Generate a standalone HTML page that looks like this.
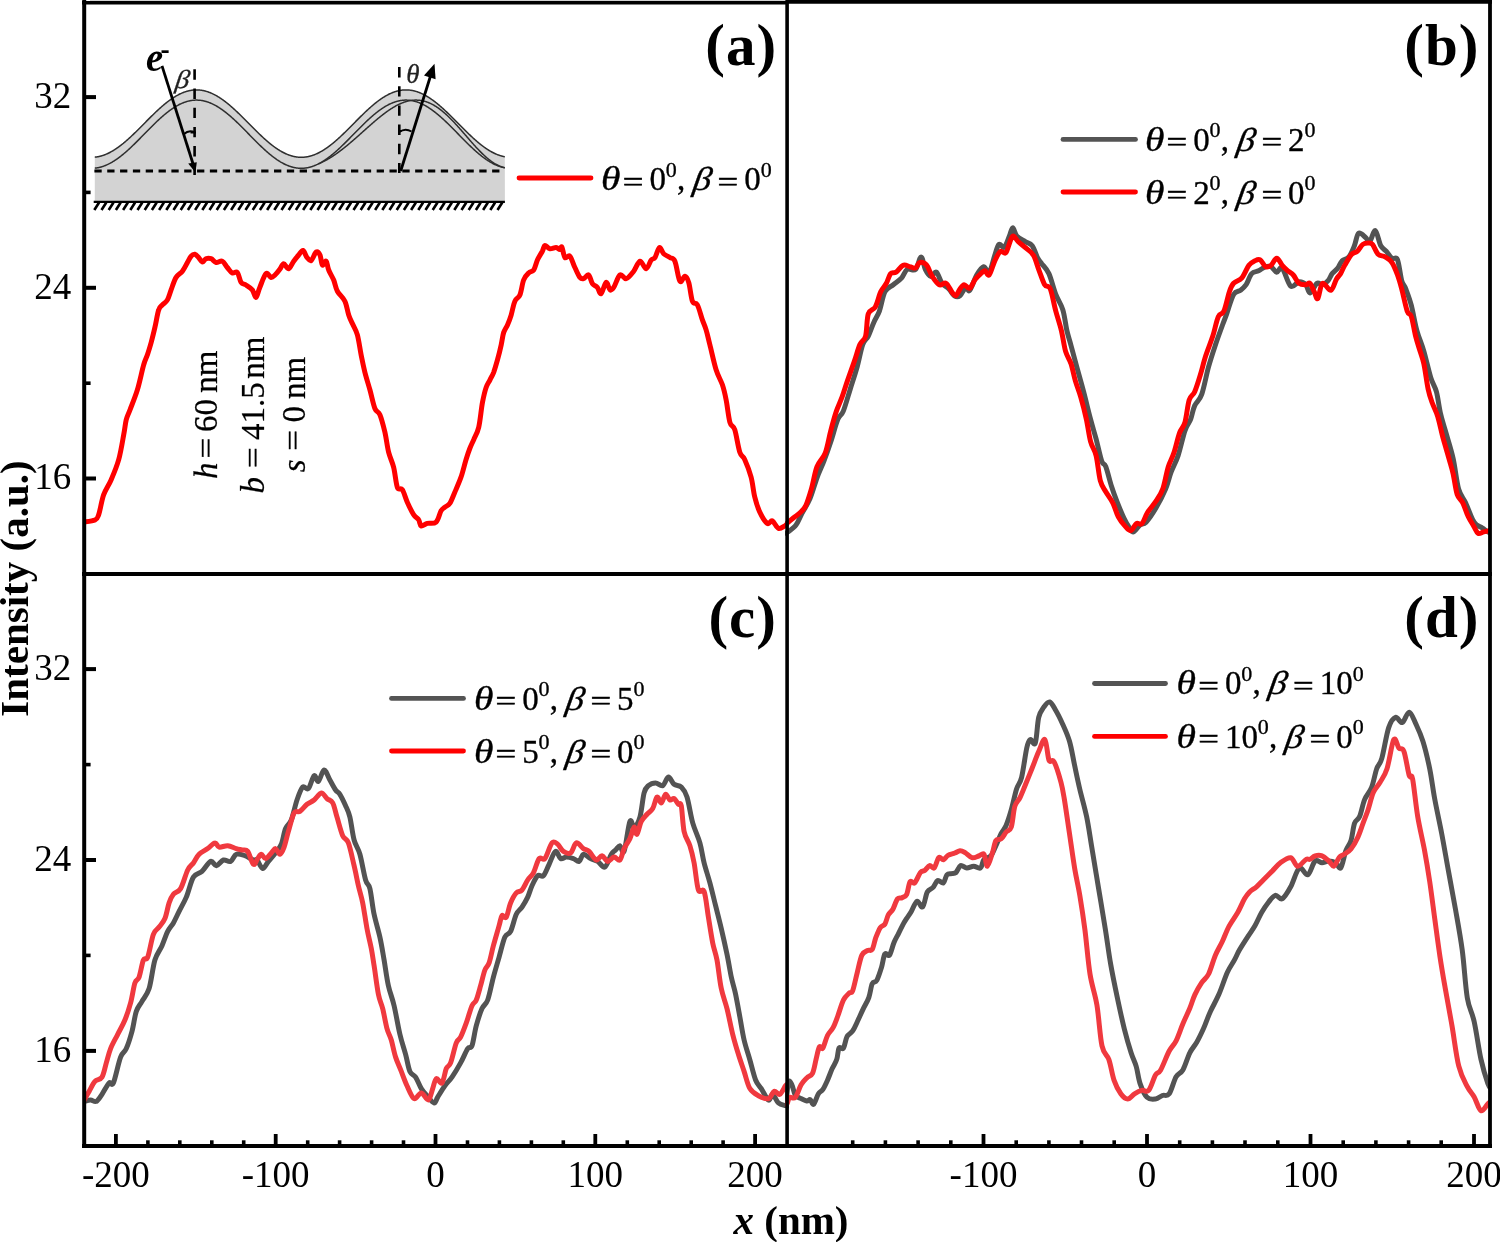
<!DOCTYPE html>
<html><head><meta charset="utf-8"><title>Intensity profiles</title>
<style>
html,body{margin:0;padding:0;background:#fff;}
body{width:1500px;height:1242px;overflow:hidden;}
svg{display:block;}
</style></head>
<body>
<svg width="1500" height="1242" viewBox="0 0 1500 1242">
<rect width="1500" height="1242" fill="#fff"/>
<g id="inset">
<path d="M94.8,201.5 L94.80,157.16 L95.30,157.11 L95.80,157.05 L96.30,156.99 L96.80,156.91 L97.30,156.83 L97.80,156.75 L98.30,156.65 L98.80,156.55 L99.30,156.44 L99.80,156.32 L100.30,156.20 L100.80,156.07 L101.30,155.93 L101.80,155.78 L102.30,155.63 L102.80,155.47 L103.30,155.30 L103.80,155.12 L104.30,154.94 L104.80,154.75 L105.30,154.56 L105.80,154.35 L106.30,154.14 L106.80,153.92 L107.30,153.70 L107.80,153.47 L108.30,153.23 L108.80,152.99 L109.30,152.74 L109.80,152.48 L110.30,152.22 L110.80,151.95 L111.30,151.67 L111.80,151.39 L112.30,151.10 L112.80,150.80 L113.30,150.50 L113.80,150.20 L114.30,149.88 L114.80,149.56 L115.30,149.24 L115.80,148.91 L116.30,148.57 L116.80,148.23 L117.30,147.88 L117.80,147.53 L118.30,147.17 L118.80,146.81 L119.30,146.44 L119.80,146.06 L120.30,145.68 L120.80,145.30 L121.30,144.91 L121.80,144.52 L122.30,144.12 L122.80,143.71 L123.30,143.31 L123.80,142.89 L124.30,142.48 L124.80,142.06 L125.30,141.63 L125.80,141.20 L126.30,140.77 L126.80,140.33 L127.30,139.89 L127.80,139.45 L128.30,139.00 L128.80,138.55 L129.30,138.09 L129.80,137.64 L130.30,137.18 L130.80,136.71 L131.30,136.25 L131.80,135.78 L132.30,135.30 L132.80,134.83 L133.30,134.35 L133.80,133.87 L134.30,133.39 L134.80,132.90 L135.30,132.42 L135.80,131.93 L136.30,131.44 L136.80,130.94 L137.30,130.45 L137.80,129.95 L138.30,129.46 L138.80,128.96 L139.30,128.46 L139.80,127.96 L140.30,127.46 L140.80,126.96 L141.30,126.45 L141.80,125.95 L142.30,125.44 L142.80,124.94 L143.30,124.43 L143.80,123.93 L144.30,123.42 L144.80,122.92 L145.30,122.41 L145.80,121.91 L146.30,121.40 L146.80,120.90 L147.30,120.40 L147.80,119.89 L148.30,119.39 L148.80,118.89 L149.30,118.39 L149.80,117.89 L150.30,117.39 L150.80,116.90 L151.30,116.40 L151.80,115.91 L152.30,115.42 L152.80,114.93 L153.30,114.44 L153.80,113.96 L154.30,113.47 L154.80,112.99 L155.30,112.52 L155.80,112.04 L156.30,111.57 L156.80,111.10 L157.30,110.63 L157.80,110.16 L158.30,109.70 L158.80,109.24 L159.30,108.79 L159.80,108.33 L160.30,107.89 L160.80,107.44 L161.30,107.00 L161.80,106.56 L162.30,106.13 L162.80,105.70 L163.30,105.27 L163.80,104.85 L164.30,104.43 L164.80,104.02 L165.30,103.61 L165.80,103.20 L166.30,102.80 L166.80,102.41 L167.30,102.02 L167.80,101.63 L168.30,101.25 L168.80,100.88 L169.30,100.50 L169.80,100.14 L170.30,99.78 L170.80,99.42 L171.30,99.08 L171.80,98.73 L172.30,98.39 L172.80,98.06 L173.30,97.73 L173.80,97.41 L174.30,97.10 L174.80,96.79 L175.30,96.49 L175.80,96.19 L176.30,95.90 L176.80,95.61 L177.30,95.33 L177.80,95.06 L178.30,94.80 L178.80,94.54 L179.30,94.29 L179.80,94.04 L180.30,93.80 L180.80,93.57 L181.30,93.34 L181.80,93.12 L182.30,92.91 L182.80,92.70 L183.30,92.51 L183.80,92.32 L184.30,92.13 L184.80,91.95 L185.30,91.78 L185.80,91.62 L186.30,91.46 L186.80,91.32 L187.30,91.17 L187.80,91.04 L188.30,90.91 L188.80,90.79 L189.30,90.68 L189.80,90.58 L190.30,90.48 L190.80,90.39 L191.30,90.31 L191.80,90.23 L192.30,90.17 L192.80,90.11 L193.30,90.06 L193.80,90.01 L194.30,89.97 L194.80,89.94 L195.30,89.92 L195.80,89.91 L196.30,89.90 L196.80,89.90 L197.30,89.91 L197.80,89.93 L198.30,89.95 L198.80,89.98 L199.30,90.02 L199.80,90.06 L200.30,90.12 L200.80,90.18 L201.30,90.25 L201.80,90.32 L202.30,90.41 L202.80,90.50 L203.30,90.60 L203.80,90.70 L204.30,90.82 L204.80,90.94 L205.30,91.07 L205.80,91.20 L206.30,91.35 L206.80,91.50 L207.30,91.65 L207.80,91.82 L208.30,91.99 L208.80,92.17 L209.30,92.35 L209.80,92.55 L210.30,92.75 L210.80,92.95 L211.30,93.17 L211.80,93.39 L212.30,93.61 L212.80,93.85 L213.30,94.09 L213.80,94.34 L214.30,94.59 L214.80,94.85 L215.30,95.12 L215.80,95.39 L216.30,95.67 L216.80,95.96 L217.30,96.25 L217.80,96.55 L218.30,96.85 L218.80,97.16 L219.30,97.48 L219.80,97.80 L220.30,98.13 L220.80,98.46 L221.30,98.80 L221.80,99.14 L222.30,99.50 L222.80,99.85 L223.30,100.21 L223.80,100.58 L224.30,100.95 L224.80,101.33 L225.30,101.71 L225.80,102.10 L226.30,102.49 L226.80,102.88 L227.30,103.28 L227.80,103.69 L228.30,104.10 L228.80,104.51 L229.30,104.93 L229.80,105.36 L230.30,105.78 L230.80,106.21 L231.30,106.65 L231.80,107.09 L232.30,107.53 L232.80,107.97 L233.30,108.42 L233.80,108.88 L234.30,109.33 L234.80,109.79 L235.30,110.26 L235.80,110.72 L236.30,111.19 L236.80,111.66 L237.30,112.13 L237.80,112.61 L238.30,113.09 L238.80,113.57 L239.30,114.05 L239.80,114.54 L240.30,115.03 L240.80,115.52 L241.30,116.01 L241.80,116.50 L242.30,117.00 L242.80,117.49 L243.30,117.99 L243.80,118.49 L244.30,118.99 L244.80,119.49 L245.30,119.99 L245.80,120.50 L246.30,121.00 L246.80,121.50 L247.30,122.01 L247.80,122.51 L248.30,123.02 L248.80,123.52 L249.30,124.03 L249.80,124.53 L250.30,125.04 L250.80,125.54 L251.30,126.05 L251.80,126.55 L252.30,127.06 L252.80,127.56 L253.30,128.06 L253.80,128.56 L254.30,129.06 L254.80,129.56 L255.30,130.05 L255.80,130.55 L256.30,131.04 L256.80,131.53 L257.30,132.02 L257.80,132.51 L258.30,133.00 L258.80,133.48 L259.30,133.97 L259.80,134.45 L260.30,134.92 L260.80,135.40 L261.30,135.87 L261.80,136.34 L262.30,136.81 L262.80,137.27 L263.30,137.73 L263.80,138.19 L264.30,138.64 L264.80,139.09 L265.30,139.54 L265.80,139.98 L266.30,140.42 L266.80,140.86 L267.30,141.29 L267.80,141.72 L268.30,142.14 L268.80,142.56 L269.30,142.98 L269.80,143.39 L270.30,143.79 L270.80,144.20 L271.30,144.59 L271.80,144.99 L272.30,145.38 L272.80,145.76 L273.30,146.14 L273.80,146.51 L274.30,146.88 L274.80,147.24 L275.30,147.60 L275.80,147.95 L276.30,148.30 L276.80,148.64 L277.30,148.97 L277.80,149.30 L278.30,149.63 L278.80,149.95 L279.30,150.26 L279.80,150.56 L280.30,150.86 L280.80,151.16 L281.30,151.45 L281.80,151.73 L282.30,152.00 L282.80,152.27 L283.30,152.53 L283.80,152.79 L284.30,153.04 L284.80,153.28 L285.30,153.52 L285.80,153.75 L286.30,153.97 L286.80,154.18 L287.30,154.39 L287.80,154.60 L288.30,154.79 L288.80,154.98 L289.30,155.16 L289.80,155.33 L290.30,155.50 L290.80,155.66 L291.30,155.81 L291.80,155.96 L292.30,156.09 L292.80,156.22 L293.30,156.35 L293.80,156.46 L294.30,156.57 L294.80,156.67 L295.30,156.76 L295.80,156.85 L296.30,156.93 L296.80,157.00 L297.30,157.06 L297.80,157.12 L298.30,157.17 L298.80,157.21 L299.30,157.24 L299.80,157.27 L300.30,157.29 L300.80,157.30 L301.30,157.30 L301.80,157.30 L302.30,157.28 L302.80,157.26 L303.30,157.24 L303.80,157.20 L304.30,157.16 L304.80,157.11 L305.30,157.05 L305.80,156.99 L306.30,156.91 L306.80,156.83 L307.30,156.75 L307.80,156.65 L308.30,156.55 L308.80,156.44 L309.30,156.32 L309.80,156.20 L310.30,156.07 L310.80,155.93 L311.30,155.78 L311.80,155.63 L312.30,155.47 L312.80,155.30 L313.30,155.12 L313.80,154.94 L314.30,154.75 L314.80,154.56 L315.30,154.35 L315.80,154.14 L316.30,153.92 L316.80,153.70 L317.30,153.47 L317.80,153.23 L318.30,152.99 L318.80,152.74 L319.30,152.48 L319.80,152.22 L320.30,151.95 L320.80,151.67 L321.30,151.39 L321.80,151.10 L322.30,150.80 L322.80,150.50 L323.30,150.20 L323.80,149.88 L324.30,149.56 L324.80,149.24 L325.30,148.91 L325.80,148.57 L326.30,148.23 L326.80,147.88 L327.30,147.53 L327.80,147.17 L328.30,146.81 L328.80,146.44 L329.30,146.06 L329.80,145.68 L330.30,145.30 L330.80,144.91 L331.30,144.52 L331.80,144.12 L332.30,143.71 L332.80,143.31 L333.30,142.89 L333.80,142.48 L334.30,142.06 L334.80,141.63 L335.30,141.20 L335.80,140.77 L336.30,140.33 L336.80,139.89 L337.30,139.45 L337.80,139.00 L338.30,138.55 L338.80,138.09 L339.30,137.64 L339.80,137.18 L340.30,136.71 L340.80,136.25 L341.30,135.78 L341.80,135.30 L342.30,134.83 L342.80,134.35 L343.30,133.87 L343.80,133.39 L344.30,132.90 L344.80,132.42 L345.30,131.93 L345.80,131.44 L346.30,130.94 L346.80,130.45 L347.30,129.95 L347.80,129.46 L348.30,128.96 L348.80,128.46 L349.30,127.96 L349.80,127.46 L350.30,126.96 L350.80,126.45 L351.30,125.95 L351.80,125.44 L352.30,124.94 L352.80,124.43 L353.30,123.93 L353.80,123.42 L354.30,122.92 L354.80,122.41 L355.30,121.91 L355.80,121.40 L356.30,120.90 L356.80,120.40 L357.30,119.89 L357.80,119.39 L358.30,118.89 L358.80,118.39 L359.30,117.89 L359.80,117.39 L360.30,116.90 L360.80,116.40 L361.30,115.91 L361.80,115.42 L362.30,114.93 L362.80,114.44 L363.30,113.96 L363.80,113.47 L364.30,112.99 L364.80,112.52 L365.30,112.04 L365.80,111.57 L366.30,111.10 L366.80,110.63 L367.30,110.16 L367.80,109.70 L368.30,109.24 L368.80,108.79 L369.30,108.33 L369.80,107.89 L370.30,107.44 L370.80,107.00 L371.30,106.56 L371.80,106.13 L372.30,105.70 L372.80,105.27 L373.30,104.85 L373.80,104.43 L374.30,104.02 L374.80,103.61 L375.30,103.20 L375.80,102.80 L376.30,102.41 L376.80,102.02 L377.30,101.63 L377.80,101.25 L378.30,100.88 L378.80,100.50 L379.30,100.14 L379.80,99.78 L380.30,99.42 L380.80,99.08 L381.30,98.73 L381.80,98.39 L382.30,98.06 L382.80,97.73 L383.30,97.41 L383.80,97.10 L384.30,96.79 L384.80,96.49 L385.30,96.19 L385.80,95.90 L386.30,95.61 L386.80,95.33 L387.30,95.06 L387.80,94.80 L388.30,94.54 L388.80,94.29 L389.30,94.04 L389.80,93.80 L390.30,93.57 L390.80,93.34 L391.30,93.12 L391.80,92.91 L392.30,92.70 L392.80,92.51 L393.30,92.32 L393.80,92.13 L394.30,91.95 L394.80,91.78 L395.30,91.62 L395.80,91.46 L396.30,91.32 L396.80,91.17 L397.30,91.04 L397.80,90.91 L398.30,90.79 L398.80,90.68 L399.30,90.58 L399.80,90.48 L400.30,90.39 L400.80,90.31 L401.30,90.23 L401.80,90.17 L402.30,90.11 L402.80,90.06 L403.30,90.01 L403.80,89.97 L404.30,89.94 L404.80,89.92 L405.30,89.91 L405.80,89.90 L406.30,89.90 L406.80,89.91 L407.30,89.93 L407.80,89.95 L408.30,89.98 L408.80,90.02 L409.30,90.06 L409.80,90.12 L410.30,90.18 L410.80,90.25 L411.30,90.32 L411.80,90.41 L412.30,90.50 L412.80,90.60 L413.30,90.70 L413.80,90.82 L414.30,90.94 L414.80,91.07 L415.30,91.20 L415.80,91.35 L416.30,91.50 L416.80,91.65 L417.30,91.82 L417.80,91.99 L418.30,92.17 L418.80,92.35 L419.30,92.55 L419.80,92.75 L420.30,92.95 L420.80,93.17 L421.30,93.39 L421.80,93.61 L422.30,93.85 L422.80,94.09 L423.30,94.34 L423.80,94.59 L424.30,94.85 L424.80,95.12 L425.30,95.39 L425.80,95.67 L426.30,95.96 L426.80,96.25 L427.30,96.55 L427.80,96.85 L428.30,97.16 L428.80,97.48 L429.30,97.80 L429.80,98.13 L430.30,98.46 L430.80,98.80 L431.30,99.14 L431.80,99.50 L432.30,99.85 L432.80,100.21 L433.30,100.58 L433.80,100.95 L434.30,101.33 L434.80,101.71 L435.30,102.10 L435.80,102.49 L436.30,102.88 L436.80,103.28 L437.30,103.69 L437.80,104.10 L438.30,104.51 L438.80,104.93 L439.30,105.36 L439.80,105.78 L440.30,106.21 L440.80,106.65 L441.30,107.09 L441.80,107.53 L442.30,107.97 L442.80,108.42 L443.30,108.88 L443.80,109.33 L444.30,109.79 L444.80,110.26 L445.30,110.72 L445.80,111.19 L446.30,111.66 L446.80,112.13 L447.30,112.61 L447.80,113.09 L448.30,113.57 L448.80,114.05 L449.30,114.54 L449.80,115.03 L450.30,115.52 L450.80,116.01 L451.30,116.50 L451.80,117.00 L452.30,117.49 L452.80,117.99 L453.30,118.49 L453.80,118.99 L454.30,119.49 L454.80,119.99 L455.30,120.50 L455.80,121.00 L456.30,121.50 L456.80,122.01 L457.30,122.51 L457.80,123.02 L458.30,123.52 L458.80,124.03 L459.30,124.53 L459.80,125.04 L460.30,125.54 L460.80,126.05 L461.30,126.55 L461.80,127.06 L462.30,127.56 L462.80,128.06 L463.30,128.56 L463.80,129.06 L464.30,129.56 L464.80,130.05 L465.30,130.55 L465.80,131.04 L466.30,131.53 L466.80,132.02 L467.30,132.51 L467.80,133.00 L468.30,133.48 L468.80,133.97 L469.30,134.45 L469.80,134.92 L470.30,135.40 L470.80,135.87 L471.30,136.34 L471.80,136.81 L472.30,137.27 L472.80,137.73 L473.30,138.19 L473.80,138.64 L474.30,139.09 L474.80,139.54 L475.30,139.98 L475.80,140.42 L476.30,140.86 L476.80,141.29 L477.30,141.72 L477.80,142.14 L478.30,142.56 L478.80,142.98 L479.30,143.39 L479.80,143.79 L480.30,144.20 L480.80,144.59 L481.30,144.99 L481.80,145.38 L482.30,145.76 L482.80,146.14 L483.30,146.51 L483.80,146.88 L484.30,147.24 L484.80,147.60 L485.30,147.95 L485.80,148.30 L486.30,148.64 L486.80,148.97 L487.30,149.30 L487.80,149.63 L488.30,149.95 L488.80,150.26 L489.30,150.56 L489.80,150.86 L490.30,151.16 L490.80,151.45 L491.30,151.73 L491.80,152.00 L492.30,152.27 L492.80,152.53 L493.30,152.79 L493.80,153.04 L494.30,153.28 L494.80,153.52 L495.30,153.75 L495.80,153.97 L496.30,154.18 L496.80,154.39 L497.30,154.60 L497.80,154.79 L498.30,154.98 L498.80,155.16 L499.30,155.33 L499.80,155.50 L500.30,155.66 L500.80,155.81 L501.30,155.96 L501.80,156.09 L502.30,156.22 L502.80,156.35 L503.30,156.46 L503.80,156.57 L504.30,156.67 L504.80,156.76 L504.9,201.5 Z" fill="#d3d3d3"/>
<g fill="none" stroke="#2e2e2e" stroke-width="1.5">
<polyline points="94.80,157.16 95.30,157.11 95.80,157.05 96.30,156.99 96.80,156.91 97.30,156.83 97.80,156.75 98.30,156.65 98.80,156.55 99.30,156.44 99.80,156.32 100.30,156.20 100.80,156.07 101.30,155.93 101.80,155.78 102.30,155.63 102.80,155.47 103.30,155.30 103.80,155.12 104.30,154.94 104.80,154.75 105.30,154.56 105.80,154.35 106.30,154.14 106.80,153.92 107.30,153.70 107.80,153.47 108.30,153.23 108.80,152.99 109.30,152.74 109.80,152.48 110.30,152.22 110.80,151.95 111.30,151.67 111.80,151.39 112.30,151.10 112.80,150.80 113.30,150.50 113.80,150.20 114.30,149.88 114.80,149.56 115.30,149.24 115.80,148.91 116.30,148.57 116.80,148.23 117.30,147.88 117.80,147.53 118.30,147.17 118.80,146.81 119.30,146.44 119.80,146.06 120.30,145.68 120.80,145.30 121.30,144.91 121.80,144.52 122.30,144.12 122.80,143.71 123.30,143.31 123.80,142.89 124.30,142.48 124.80,142.06 125.30,141.63 125.80,141.20 126.30,140.77 126.80,140.33 127.30,139.89 127.80,139.45 128.30,139.00 128.80,138.55 129.30,138.09 129.80,137.64 130.30,137.18 130.80,136.71 131.30,136.25 131.80,135.78 132.30,135.30 132.80,134.83 133.30,134.35 133.80,133.87 134.30,133.39 134.80,132.90 135.30,132.42 135.80,131.93 136.30,131.44 136.80,130.94 137.30,130.45 137.80,129.95 138.30,129.46 138.80,128.96 139.30,128.46 139.80,127.96 140.30,127.46 140.80,126.96 141.30,126.45 141.80,125.95 142.30,125.44 142.80,124.94 143.30,124.43 143.80,123.93 144.30,123.42 144.80,122.92 145.30,122.41 145.80,121.91 146.30,121.40 146.80,120.90 147.30,120.40 147.80,119.89 148.30,119.39 148.80,118.89 149.30,118.39 149.80,117.89 150.30,117.39 150.80,116.90 151.30,116.40 151.80,115.91 152.30,115.42 152.80,114.93 153.30,114.44 153.80,113.96 154.30,113.47 154.80,112.99 155.30,112.52 155.80,112.04 156.30,111.57 156.80,111.10 157.30,110.63 157.80,110.16 158.30,109.70 158.80,109.24 159.30,108.79 159.80,108.33 160.30,107.89 160.80,107.44 161.30,107.00 161.80,106.56 162.30,106.13 162.80,105.70 163.30,105.27 163.80,104.85 164.30,104.43 164.80,104.02 165.30,103.61 165.80,103.20 166.30,102.80 166.80,102.41 167.30,102.02 167.80,101.63 168.30,101.25 168.80,100.88 169.30,100.50 169.80,100.14 170.30,99.78 170.80,99.42 171.30,99.08 171.80,98.73 172.30,98.39 172.80,98.06 173.30,97.73 173.80,97.41 174.30,97.10 174.80,96.79 175.30,96.49 175.80,96.19 176.30,95.90 176.80,95.61 177.30,95.33 177.80,95.06 178.30,94.80 178.80,94.54 179.30,94.29 179.80,94.04 180.30,93.80 180.80,93.57 181.30,93.34 181.80,93.12 182.30,92.91 182.80,92.70 183.30,92.51 183.80,92.32 184.30,92.13 184.80,91.95 185.30,91.78 185.80,91.62 186.30,91.46 186.80,91.32 187.30,91.17 187.80,91.04 188.30,90.91 188.80,90.79 189.30,90.68 189.80,90.58 190.30,90.48 190.80,90.39 191.30,90.31 191.80,90.23 192.30,90.17 192.80,90.11 193.30,90.06 193.80,90.01 194.30,89.97 194.80,89.94 195.30,89.92 195.80,89.91 196.30,89.90 196.80,89.90 197.30,89.91 197.80,89.93 198.30,89.95 198.80,89.98 199.30,90.02 199.80,90.06 200.30,90.12 200.80,90.18 201.30,90.25 201.80,90.32 202.30,90.41 202.80,90.50 203.30,90.60 203.80,90.70 204.30,90.82 204.80,90.94 205.30,91.07 205.80,91.20 206.30,91.35 206.80,91.50 207.30,91.65 207.80,91.82 208.30,91.99 208.80,92.17 209.30,92.35 209.80,92.55 210.30,92.75 210.80,92.95 211.30,93.17 211.80,93.39 212.30,93.61 212.80,93.85 213.30,94.09 213.80,94.34 214.30,94.59 214.80,94.85 215.30,95.12 215.80,95.39 216.30,95.67 216.80,95.96 217.30,96.25 217.80,96.55 218.30,96.85 218.80,97.16 219.30,97.48 219.80,97.80 220.30,98.13 220.80,98.46 221.30,98.80 221.80,99.14 222.30,99.50 222.80,99.85 223.30,100.21 223.80,100.58 224.30,100.95 224.80,101.33 225.30,101.71 225.80,102.10 226.30,102.49 226.80,102.88 227.30,103.28 227.80,103.69 228.30,104.10 228.80,104.51 229.30,104.93 229.80,105.36 230.30,105.78 230.80,106.21 231.30,106.65 231.80,107.09 232.30,107.53 232.80,107.97 233.30,108.42 233.80,108.88 234.30,109.33 234.80,109.79 235.30,110.26 235.80,110.72 236.30,111.19 236.80,111.66 237.30,112.13 237.80,112.61 238.30,113.09 238.80,113.57 239.30,114.05 239.80,114.54 240.30,115.03 240.80,115.52 241.30,116.01 241.80,116.50 242.30,117.00 242.80,117.49 243.30,117.99 243.80,118.49 244.30,118.99 244.80,119.49 245.30,119.99 245.80,120.50 246.30,121.00 246.80,121.50 247.30,122.01 247.80,122.51 248.30,123.02 248.80,123.52 249.30,124.03 249.80,124.53 250.30,125.04 250.80,125.54 251.30,126.05 251.80,126.55 252.30,127.06 252.80,127.56 253.30,128.06 253.80,128.56 254.30,129.06 254.80,129.56 255.30,130.05 255.80,130.55 256.30,131.04 256.80,131.53 257.30,132.02 257.80,132.51 258.30,133.00 258.80,133.48 259.30,133.97 259.80,134.45 260.30,134.92 260.80,135.40 261.30,135.87 261.80,136.34 262.30,136.81 262.80,137.27 263.30,137.73 263.80,138.19 264.30,138.64 264.80,139.09 265.30,139.54 265.80,139.98 266.30,140.42 266.80,140.86 267.30,141.29 267.80,141.72 268.30,142.14 268.80,142.56 269.30,142.98 269.80,143.39 270.30,143.79 270.80,144.20 271.30,144.59 271.80,144.99 272.30,145.38 272.80,145.76 273.30,146.14 273.80,146.51 274.30,146.88 274.80,147.24 275.30,147.60 275.80,147.95 276.30,148.30 276.80,148.64 277.30,148.97 277.80,149.30 278.30,149.63 278.80,149.95 279.30,150.26 279.80,150.56 280.30,150.86 280.80,151.16 281.30,151.45 281.80,151.73 282.30,152.00 282.80,152.27 283.30,152.53 283.80,152.79 284.30,153.04 284.80,153.28 285.30,153.52 285.80,153.75 286.30,153.97 286.80,154.18 287.30,154.39 287.80,154.60 288.30,154.79 288.80,154.98 289.30,155.16 289.80,155.33 290.30,155.50 290.80,155.66 291.30,155.81 291.80,155.96 292.30,156.09 292.80,156.22 293.30,156.35 293.80,156.46 294.30,156.57 294.80,156.67 295.30,156.76 295.80,156.85 296.30,156.93 296.80,157.00 297.30,157.06 297.80,157.12 298.30,157.17 298.80,157.21 299.30,157.24 299.80,157.27 300.30,157.29 300.80,157.30 301.30,157.30 301.80,157.30 302.30,157.28 302.80,157.26 303.30,157.24 303.80,157.20 304.30,157.16 304.80,157.11 305.30,157.05 305.80,156.99 306.30,156.91 306.80,156.83 307.30,156.75 307.80,156.65 308.30,156.55 308.80,156.44 309.30,156.32 309.80,156.20 310.30,156.07 310.80,155.93 311.30,155.78 311.80,155.63 312.30,155.47 312.80,155.30 313.30,155.12 313.80,154.94 314.30,154.75 314.80,154.56 315.30,154.35 315.80,154.14 316.30,153.92 316.80,153.70 317.30,153.47 317.80,153.23 318.30,152.99 318.80,152.74 319.30,152.48 319.80,152.22 320.30,151.95 320.80,151.67 321.30,151.39 321.80,151.10 322.30,150.80 322.80,150.50 323.30,150.20 323.80,149.88 324.30,149.56 324.80,149.24 325.30,148.91 325.80,148.57 326.30,148.23 326.80,147.88 327.30,147.53 327.80,147.17 328.30,146.81 328.80,146.44 329.30,146.06 329.80,145.68 330.30,145.30 330.80,144.91 331.30,144.52 331.80,144.12 332.30,143.71 332.80,143.31 333.30,142.89 333.80,142.48 334.30,142.06 334.80,141.63 335.30,141.20 335.80,140.77 336.30,140.33 336.80,139.89 337.30,139.45 337.80,139.00 338.30,138.55 338.80,138.09 339.30,137.64 339.80,137.18 340.30,136.71 340.80,136.25 341.30,135.78 341.80,135.30 342.30,134.83 342.80,134.35 343.30,133.87 343.80,133.39 344.30,132.90 344.80,132.42 345.30,131.93 345.80,131.44 346.30,130.94 346.80,130.45 347.30,129.95 347.80,129.46 348.30,128.96 348.80,128.46 349.30,127.96 349.80,127.46 350.30,126.96 350.80,126.45 351.30,125.95 351.80,125.44 352.30,124.94 352.80,124.43 353.30,123.93 353.80,123.42 354.30,122.92 354.80,122.41 355.30,121.91 355.80,121.40 356.30,120.90 356.80,120.40 357.30,119.89 357.80,119.39 358.30,118.89 358.80,118.39 359.30,117.89 359.80,117.39 360.30,116.90 360.80,116.40 361.30,115.91 361.80,115.42 362.30,114.93 362.80,114.44 363.30,113.96 363.80,113.47 364.30,112.99 364.80,112.52 365.30,112.04 365.80,111.57 366.30,111.10 366.80,110.63 367.30,110.16 367.80,109.70 368.30,109.24 368.80,108.79 369.30,108.33 369.80,107.89 370.30,107.44 370.80,107.00 371.30,106.56 371.80,106.13 372.30,105.70 372.80,105.27 373.30,104.85 373.80,104.43 374.30,104.02 374.80,103.61 375.30,103.20 375.80,102.80 376.30,102.41 376.80,102.02 377.30,101.63 377.80,101.25 378.30,100.88 378.80,100.50 379.30,100.14 379.80,99.78 380.30,99.42 380.80,99.08 381.30,98.73 381.80,98.39 382.30,98.06 382.80,97.73 383.30,97.41 383.80,97.10 384.30,96.79 384.80,96.49 385.30,96.19 385.80,95.90 386.30,95.61 386.80,95.33 387.30,95.06 387.80,94.80 388.30,94.54 388.80,94.29 389.30,94.04 389.80,93.80 390.30,93.57 390.80,93.34 391.30,93.12 391.80,92.91 392.30,92.70 392.80,92.51 393.30,92.32 393.80,92.13 394.30,91.95 394.80,91.78 395.30,91.62 395.80,91.46 396.30,91.32 396.80,91.17 397.30,91.04 397.80,90.91 398.30,90.79 398.80,90.68 399.30,90.58 399.80,90.48 400.30,90.39 400.80,90.31 401.30,90.23 401.80,90.17 402.30,90.11 402.80,90.06 403.30,90.01 403.80,89.97 404.30,89.94 404.80,89.92 405.30,89.91 405.80,89.90 406.30,89.90 406.80,89.91 407.30,89.93 407.80,89.95 408.30,89.98 408.80,90.02 409.30,90.06 409.80,90.12 410.30,90.18 410.80,90.25 411.30,90.32 411.80,90.41 412.30,90.50 412.80,90.60 413.30,90.70 413.80,90.82 414.30,90.94 414.80,91.07 415.30,91.20 415.80,91.35 416.30,91.50 416.80,91.65 417.30,91.82 417.80,91.99 418.30,92.17 418.80,92.35 419.30,92.55 419.80,92.75 420.30,92.95 420.80,93.17 421.30,93.39 421.80,93.61 422.30,93.85 422.80,94.09 423.30,94.34 423.80,94.59 424.30,94.85 424.80,95.12 425.30,95.39 425.80,95.67 426.30,95.96 426.80,96.25 427.30,96.55 427.80,96.85 428.30,97.16 428.80,97.48 429.30,97.80 429.80,98.13 430.30,98.46 430.80,98.80 431.30,99.14 431.80,99.50 432.30,99.85 432.80,100.21 433.30,100.58 433.80,100.95 434.30,101.33 434.80,101.71 435.30,102.10 435.80,102.49 436.30,102.88 436.80,103.28 437.30,103.69 437.80,104.10 438.30,104.51 438.80,104.93 439.30,105.36 439.80,105.78 440.30,106.21 440.80,106.65 441.30,107.09 441.80,107.53 442.30,107.97 442.80,108.42 443.30,108.88 443.80,109.33 444.30,109.79 444.80,110.26 445.30,110.72 445.80,111.19 446.30,111.66 446.80,112.13 447.30,112.61 447.80,113.09 448.30,113.57 448.80,114.05 449.30,114.54 449.80,115.03 450.30,115.52 450.80,116.01 451.30,116.50 451.80,117.00 452.30,117.49 452.80,117.99 453.30,118.49 453.80,118.99 454.30,119.49 454.80,119.99 455.30,120.50 455.80,121.00 456.30,121.50 456.80,122.01 457.30,122.51 457.80,123.02 458.30,123.52 458.80,124.03 459.30,124.53 459.80,125.04 460.30,125.54 460.80,126.05 461.30,126.55 461.80,127.06 462.30,127.56 462.80,128.06 463.30,128.56 463.80,129.06 464.30,129.56 464.80,130.05 465.30,130.55 465.80,131.04 466.30,131.53 466.80,132.02 467.30,132.51 467.80,133.00 468.30,133.48 468.80,133.97 469.30,134.45 469.80,134.92 470.30,135.40 470.80,135.87 471.30,136.34 471.80,136.81 472.30,137.27 472.80,137.73 473.30,138.19 473.80,138.64 474.30,139.09 474.80,139.54 475.30,139.98 475.80,140.42 476.30,140.86 476.80,141.29 477.30,141.72 477.80,142.14 478.30,142.56 478.80,142.98 479.30,143.39 479.80,143.79 480.30,144.20 480.80,144.59 481.30,144.99 481.80,145.38 482.30,145.76 482.80,146.14 483.30,146.51 483.80,146.88 484.30,147.24 484.80,147.60 485.30,147.95 485.80,148.30 486.30,148.64 486.80,148.97 487.30,149.30 487.80,149.63 488.30,149.95 488.80,150.26 489.30,150.56 489.80,150.86 490.30,151.16 490.80,151.45 491.30,151.73 491.80,152.00 492.30,152.27 492.80,152.53 493.30,152.79 493.80,153.04 494.30,153.28 494.80,153.52 495.30,153.75 495.80,153.97 496.30,154.18 496.80,154.39 497.30,154.60 497.80,154.79 498.30,154.98 498.80,155.16 499.30,155.33 499.80,155.50 500.30,155.66 500.80,155.81 501.30,155.96 501.80,156.09 502.30,156.22 502.80,156.35 503.30,156.46 503.80,156.57 504.30,156.67 504.80,156.76"/>
<polyline points="94.80,168.16 95.30,168.11 95.80,168.05 96.30,167.98 96.80,167.91 97.30,167.83 97.80,167.74 98.30,167.64 98.80,167.54 99.30,167.43 99.80,167.31 100.30,167.19 100.80,167.05 101.30,166.91 101.80,166.76 102.30,166.61 102.80,166.44 103.30,166.27 103.80,166.10 104.30,165.91 104.80,165.72 105.30,165.52 105.80,165.32 106.30,165.10 106.80,164.88 107.30,164.66 107.80,164.43 108.30,164.18 108.80,163.94 109.30,163.68 109.80,163.42 110.30,163.16 110.80,162.88 111.30,162.60 111.80,162.32 112.30,162.03 112.80,161.73 113.30,161.42 113.80,161.11 114.30,160.79 114.80,160.47 115.30,160.14 115.80,159.81 116.30,159.47 116.80,159.12 117.30,158.77 117.80,158.41 118.30,158.05 118.80,157.68 119.30,157.31 119.80,156.93 120.30,156.54 120.80,156.16 121.30,155.76 121.80,155.36 122.30,154.96 122.80,154.55 123.30,154.14 123.80,153.72 124.30,153.30 124.80,152.88 125.30,152.45 125.80,152.01 126.30,151.57 126.80,151.13 127.30,150.69 127.80,150.24 128.30,149.78 128.80,149.33 129.30,148.87 129.80,148.40 130.30,147.94 130.80,147.47 131.30,147.00 131.80,146.52 132.30,146.04 132.80,145.56 133.30,145.08 133.80,144.59 134.30,144.10 134.80,143.61 135.30,143.12 135.80,142.63 136.30,142.13 136.80,141.63 137.30,141.13 137.80,140.63 138.30,140.13 138.80,139.62 139.30,139.12 139.80,138.61 140.30,138.10 140.80,137.59 141.30,137.09 141.80,136.58 142.30,136.07 142.80,135.55 143.30,135.04 143.80,134.53 144.30,134.02 144.80,133.51 145.30,133.00 145.80,132.49 146.30,131.98 146.80,131.47 147.30,130.96 147.80,130.45 148.30,129.94 148.80,129.43 149.30,128.93 149.80,128.42 150.30,127.92 150.80,127.42 151.30,126.92 151.80,126.42 152.30,125.92 152.80,125.43 153.30,124.93 153.80,124.44 154.30,123.95 154.80,123.47 155.30,122.98 155.80,122.50 156.30,122.02 156.80,121.55 157.30,121.07 157.80,120.60 158.30,120.14 158.80,119.67 159.30,119.21 159.80,118.75 160.30,118.30 160.80,117.85 161.30,117.40 161.80,116.96 162.30,116.52 162.80,116.08 163.30,115.65 163.80,115.23 164.30,114.80 164.80,114.38 165.30,113.97 165.80,113.56 166.30,113.16 166.80,112.76 167.30,112.36 167.80,111.97 168.30,111.59 168.80,111.21 169.30,110.83 169.80,110.46 170.30,110.10 170.80,109.74 171.30,109.38 171.80,109.04 172.30,108.69 172.80,108.36 173.30,108.03 173.80,107.70 174.30,107.38 174.80,107.07 175.30,106.76 175.80,106.46 176.30,106.17 176.80,105.88 177.30,105.60 177.80,105.32 178.30,105.06 178.80,104.79 179.30,104.54 179.80,104.29 180.30,104.05 180.80,103.81 181.30,103.58 181.80,103.36 182.30,103.15 182.80,102.94 183.30,102.74 183.80,102.54 184.30,102.36 184.80,102.18 185.30,102.01 185.80,101.84 186.30,101.68 186.80,101.53 187.30,101.39 187.80,101.25 188.30,101.13 188.80,101.01 189.30,100.89 189.80,100.79 190.30,100.69 190.80,100.60 191.30,100.51 191.80,100.44 192.30,100.37 192.80,100.31 193.30,100.26 193.80,100.21 194.30,100.17 194.80,100.14 195.30,100.12 195.80,100.11 196.30,100.10 196.80,100.10 197.30,100.11 197.80,100.13 198.30,100.15 198.80,100.18 199.30,100.22 199.80,100.27 200.30,100.32 200.80,100.38 201.30,100.45 201.80,100.53 202.30,100.61 202.80,100.71 203.30,100.81 203.80,100.91 204.30,101.03 204.80,101.15 205.30,101.28 205.80,101.42 206.30,101.56 206.80,101.71 207.30,101.87 207.80,102.04 208.30,102.21 208.80,102.39 209.30,102.58 209.80,102.78 210.30,102.98 210.80,103.19 211.30,103.40 211.80,103.63 212.30,103.86 212.80,104.09 213.30,104.34 213.80,104.59 214.30,104.84 214.80,105.11 215.30,105.38 215.80,105.65 216.30,105.94 216.80,106.23 217.30,106.52 217.80,106.82 218.30,107.13 218.80,107.45 219.30,107.77 219.80,108.09 220.30,108.42 220.80,108.76 221.30,109.11 221.80,109.45 222.30,109.81 222.80,110.17 223.30,110.53 223.80,110.91 224.30,111.28 224.80,111.66 225.30,112.05 225.80,112.44 226.30,112.84 226.80,113.24 227.30,113.64 227.80,114.05 228.30,114.47 228.80,114.89 229.30,115.31 229.80,115.74 230.30,116.17 230.80,116.61 231.30,117.05 231.80,117.49 232.30,117.94 232.80,118.39 233.30,118.84 233.80,119.30 234.30,119.76 234.80,120.23 235.30,120.70 235.80,121.17 236.30,121.64 236.80,122.12 237.30,122.60 237.80,123.08 238.30,123.57 238.80,124.05 239.30,124.54 239.80,125.03 240.30,125.53 240.80,126.02 241.30,126.52 241.80,127.02 242.30,127.52 242.80,128.02 243.30,128.52 243.80,129.03 244.30,129.54 244.80,130.04 245.30,130.55 245.80,131.06 246.30,131.57 246.80,132.08 247.30,132.59 247.80,133.10 248.30,133.61 248.80,134.12 249.30,134.63 249.80,135.15 250.30,135.66 250.80,136.17 251.30,136.68 251.80,137.19 252.30,137.70 252.80,138.20 253.30,138.71 253.80,139.22 254.30,139.72 254.80,140.23 255.30,140.73 255.80,141.23 256.30,141.73 256.80,142.23 257.30,142.72 257.80,143.22 258.30,143.71 258.80,144.20 259.30,144.69 259.80,145.17 260.30,145.66 260.80,146.14 261.30,146.62 261.80,147.09 262.30,147.56 262.80,148.03 263.30,148.50 263.80,148.96 264.30,149.42 264.80,149.87 265.30,150.33 265.80,150.78 266.30,151.22 266.80,151.66 267.30,152.10 267.80,152.53 268.30,152.96 268.80,153.39 269.30,153.81 269.80,154.22 270.30,154.63 270.80,155.04 271.30,155.44 271.80,155.84 272.30,156.23 272.80,156.62 273.30,157.00 273.80,157.38 274.30,157.75 274.80,158.12 275.30,158.48 275.80,158.84 276.30,159.19 276.80,159.54 277.30,159.87 277.80,160.21 278.30,160.54 278.80,160.86 279.30,161.17 279.80,161.48 280.30,161.79 280.80,162.08 281.30,162.38 281.80,162.66 282.30,162.94 282.80,163.21 283.30,163.48 283.80,163.74 284.30,163.99 284.80,164.23 285.30,164.47 285.80,164.70 286.30,164.93 286.80,165.15 287.30,165.36 287.80,165.56 288.30,165.76 288.80,165.95 289.30,166.13 289.80,166.31 290.30,166.48 290.80,166.64 291.30,166.79 291.80,166.94 292.30,167.08 292.80,167.21 293.30,167.34 293.80,167.45 294.30,167.56 294.80,167.66 295.30,167.76 295.80,167.85 296.30,167.92 296.80,168.00 297.30,168.06 297.80,168.12 298.30,168.17 298.80,168.21 299.30,168.24 299.80,168.27 300.30,168.29 300.80,168.30 301.30,168.30 301.80,168.30 302.30,168.28 302.80,168.26 303.30,168.24 303.80,168.20 304.30,168.16 304.80,168.11 305.30,168.05 305.80,167.98 306.30,167.91 306.80,167.83 307.30,167.74 307.80,167.64 308.30,167.54 308.80,167.43 309.30,167.31 309.80,167.19 310.30,167.05 310.80,166.91 311.30,166.76 311.80,166.61 312.30,166.44 312.80,166.27 313.30,166.10 313.80,165.91 314.30,165.72 314.80,165.52 315.30,165.32 315.80,165.10 316.30,164.88 316.80,164.66 317.30,164.43 317.80,164.18 318.30,163.94 318.80,163.68 319.30,163.42 319.80,163.16 320.30,162.88 320.80,162.60 321.30,162.32 321.80,162.03 322.30,161.73 322.80,161.42 323.30,161.11 323.80,160.79 324.30,160.47 324.80,160.14 325.30,159.81 325.80,159.47 326.30,159.12 326.80,158.77 327.30,158.41 327.80,158.05 328.30,157.68 328.80,157.31 329.30,156.93 329.80,156.54 330.30,156.16 330.80,155.76 331.30,155.36 331.80,154.96 332.30,154.55 332.80,154.14 333.30,153.72 333.80,153.30 334.30,152.88 334.80,152.45 335.30,152.01 335.80,151.57 336.30,151.13 336.80,150.69 337.30,150.24 337.80,149.78 338.30,149.33 338.80,148.87 339.30,148.40 339.80,147.94 340.30,147.47 340.80,147.00 341.30,146.52 341.80,146.04 342.30,145.56 342.80,145.08 343.30,144.59 343.80,144.10 344.30,143.61 344.80,143.12 345.30,142.63 345.80,142.13 346.30,141.63 346.80,141.13 347.30,140.63 347.80,140.13 348.30,139.62 348.80,139.12 349.30,138.61 349.80,138.10 350.30,137.59 350.80,137.09 351.30,136.58 351.80,136.07 352.30,135.55 352.80,135.04 353.30,134.53 353.80,134.02 354.30,133.51 354.80,133.00 355.30,132.49 355.80,131.98 356.30,131.47 356.80,130.96 357.30,130.45 357.80,129.94 358.30,129.43 358.80,128.93 359.30,128.42 359.80,127.92 360.30,127.42 360.80,126.92 361.30,126.42 361.80,125.92 362.30,125.43 362.80,124.93 363.30,124.44 363.80,123.95 364.30,123.47 364.80,122.98 365.30,122.50 365.80,122.02 366.30,121.55 366.80,121.07 367.30,120.60 367.80,120.14 368.30,119.67 368.80,119.21 369.30,118.75 369.80,118.30 370.30,117.85 370.80,117.40 371.30,116.96 371.80,116.52 372.30,116.08 372.80,115.65 373.30,115.23 373.80,114.80 374.30,114.38 374.80,113.97 375.30,113.56 375.80,113.16 376.30,112.76 376.80,112.36 377.30,111.97 377.80,111.59 378.30,111.21 378.80,110.83 379.30,110.46 379.80,110.10 380.30,109.74 380.80,109.38 381.30,109.04 381.80,108.69 382.30,108.36 382.80,108.03 383.30,107.70 383.80,107.38 384.30,107.07 384.80,106.76 385.30,106.46 385.80,106.17 386.30,105.88 386.80,105.60 387.30,105.32 387.80,105.06 388.30,104.79 388.80,104.54 389.30,104.29 389.80,104.05 390.30,103.81 390.80,103.58 391.30,103.36 391.80,103.15 392.30,102.94 392.80,102.74 393.30,102.54 393.80,102.36 394.30,102.18 394.80,102.01 395.30,101.84 395.80,101.68 396.30,101.53 396.80,101.39 397.30,101.25 397.80,101.13 398.30,101.01 398.80,100.89 399.30,100.79 399.80,100.69 400.30,100.60 400.80,100.51 401.30,100.44 401.80,100.37 402.30,100.31 402.80,100.26 403.30,100.21 403.80,100.17 404.30,100.14 404.80,100.12 405.30,100.11 405.80,100.10 406.30,100.10 406.80,100.11 407.30,100.13 407.80,100.15 408.30,100.18 408.80,100.22 409.30,100.27 409.80,100.32 410.30,100.38 410.80,100.45 411.30,100.53 411.80,100.61 412.30,100.71 412.80,100.81 413.30,100.91 413.80,101.03 414.30,101.15 414.80,101.28 415.30,101.42 415.80,101.56 416.30,101.71 416.80,101.87 417.30,102.04 417.80,102.21 418.30,102.39 418.80,102.58 419.30,102.78 419.80,102.98 420.30,103.19 420.80,103.40 421.30,103.63 421.80,103.86 422.30,104.09 422.80,104.34 423.30,104.59 423.80,104.84 424.30,105.11 424.80,105.38 425.30,105.65 425.80,105.94 426.30,106.23 426.80,106.52 427.30,106.82 427.80,107.13 428.30,107.45 428.80,107.77 429.30,108.09 429.80,108.42 430.30,108.76 430.80,109.11 431.30,109.45 431.80,109.81 432.30,110.17 432.80,110.53 433.30,110.91 433.80,111.28 434.30,111.66 434.80,112.05 435.30,112.44 435.80,112.84 436.30,113.24 436.80,113.64 437.30,114.05 437.80,114.47 438.30,114.89 438.80,115.31 439.30,115.74 439.80,116.17 440.30,116.61 440.80,117.05 441.30,117.49 441.80,117.94 442.30,118.39 442.80,118.84 443.30,119.30 443.80,119.76 444.30,120.23 444.80,120.70 445.30,121.17 445.80,121.64 446.30,122.12 446.80,122.60 447.30,123.08 447.80,123.57 448.30,124.05 448.80,124.54 449.30,125.03 449.80,125.53 450.30,126.02 450.80,126.52 451.30,127.02 451.80,127.52 452.30,128.02 452.80,128.52 453.30,129.03 453.80,129.54 454.30,130.04 454.80,130.55 455.30,131.06 455.80,131.57 456.30,132.08 456.80,132.59 457.30,133.10 457.80,133.61 458.30,134.12 458.80,134.63 459.30,135.15 459.80,135.66 460.30,136.17 460.80,136.68 461.30,137.19 461.80,137.70 462.30,138.20 462.80,138.71 463.30,139.22 463.80,139.72 464.30,140.23 464.80,140.73 465.30,141.23 465.80,141.73 466.30,142.23 466.80,142.72 467.30,143.22 467.80,143.71 468.30,144.20 468.80,144.69 469.30,145.17 469.80,145.66 470.30,146.14 470.80,146.62 471.30,147.09 471.80,147.56 472.30,148.03 472.80,148.50 473.30,148.96 473.80,149.42 474.30,149.87 474.80,150.33 475.30,150.78 475.80,151.22 476.30,151.66 476.80,152.10 477.30,152.53 477.80,152.96 478.30,153.39 478.80,153.81 479.30,154.22 479.80,154.63 480.30,155.04 480.80,155.44 481.30,155.84 481.80,156.23 482.30,156.62 482.80,157.00 483.30,157.38 483.80,157.75 484.30,158.12 484.80,158.48 485.30,158.84 485.80,159.19 486.30,159.54 486.80,159.87 487.30,160.21 487.80,160.54 488.30,160.86 488.80,161.17 489.30,161.48 489.80,161.79 490.30,162.08 490.80,162.38 491.30,162.66 491.80,162.94 492.30,163.21 492.80,163.48 493.30,163.74 493.80,163.99 494.30,164.23 494.80,164.47 495.30,164.70 495.80,164.93 496.30,165.15 496.80,165.36 497.30,165.56 497.80,165.76 498.30,165.95 498.80,166.13 499.30,166.31 499.80,166.48 500.30,166.64 500.80,166.79 501.30,166.94 501.80,167.08 502.30,167.21 502.80,167.34 503.30,167.45 503.80,167.56 504.30,167.66 504.80,167.76"/>
<polyline points="318.30,163.96 318.80,163.75 319.30,163.54 319.80,163.32 320.30,163.10 320.80,162.87 321.30,162.64 321.80,162.40 322.30,162.16 322.80,161.91 323.30,161.66 323.80,161.41 324.30,161.15 324.80,160.88 325.30,160.62 325.80,160.34 326.30,160.07 326.80,159.79 327.30,159.51 327.80,159.22 328.30,158.93 328.80,158.63 329.30,158.33 329.80,158.03 330.30,157.72 330.80,157.41 331.30,157.09 331.80,156.77 332.30,156.45 332.80,156.13 333.30,155.80 333.80,155.46 334.30,155.13 334.80,154.79 335.30,154.44 335.80,154.10 336.30,153.74 336.80,153.39 337.30,153.03 337.80,152.67 338.30,152.31 338.80,151.95 339.30,151.58 339.80,151.20 340.30,150.83 340.80,150.45 341.30,150.07 341.80,149.69 342.30,149.30 342.80,148.91 343.30,148.52 343.80,148.12 344.30,147.73 344.80,147.33 345.30,146.93 345.80,146.52 346.30,146.12 346.80,145.71 347.30,145.30 347.80,144.88 348.30,144.47 348.80,144.05 349.30,143.63 349.80,143.21 350.30,142.79 350.80,142.36 351.30,141.94 351.80,141.51 352.30,141.08 352.80,140.65 353.30,140.22 353.80,139.78 354.30,139.35 354.80,138.91 355.30,138.47 355.80,138.03 356.30,137.59 356.80,137.15 357.30,136.71 357.80,136.27 358.30,135.83 358.80,135.38 359.30,134.94 359.80,134.49 360.30,134.04 360.80,133.60 361.30,133.15 361.80,132.70 362.30,132.26 362.80,131.81 363.30,131.36 363.80,130.91 364.30,130.47 364.80,130.02 365.30,129.57 365.80,129.13 366.30,128.68 366.80,128.23 367.30,127.79 367.80,127.34 368.30,126.90 368.80,126.46 369.30,126.01 369.80,125.57 370.30,125.13 370.80,124.69 371.30,124.25 371.80,123.82 372.30,123.38 372.80,122.95 373.30,122.51 373.80,122.08 374.30,121.65 374.80,121.22 375.30,120.80 375.80,120.37 376.30,119.95 376.80,119.53 377.30,119.11 377.80,118.70 378.30,118.28 378.80,117.87 379.30,117.47 379.80,117.06 380.30,116.66 380.80,116.26 381.30,115.86 381.80,115.47 382.30,115.07 382.80,114.69 383.30,114.30 383.80,113.92 384.30,113.54 384.80,113.17 385.30,112.79 385.80,112.43 386.30,112.06 386.80,111.70 387.30,111.35 387.80,110.99 388.30,110.65 388.80,110.30 389.30,109.96 389.80,109.63 390.30,109.29 390.80,108.97 391.30,108.65 391.80,108.33 392.30,108.02 392.80,107.71 393.30,107.41 393.80,107.11 394.30,106.82 394.80,106.53 395.30,106.25 395.80,105.97 396.30,105.70 396.80,105.43 397.30,105.17 397.80,104.92 398.30,104.67 398.80,104.42 399.30,104.19 399.80,103.95 400.30,103.73 400.80,103.51 401.30,103.30 401.80,103.09 402.30,102.89 402.80,102.70 403.30,102.51 403.80,102.33 404.30,102.15 404.80,101.98 405.30,101.82 405.80,101.67 406.30,101.52 406.80,101.38 407.30,101.25 407.80,101.12 408.30,101.00 408.80,100.89 409.30,100.78 409.80,100.69 410.30,100.60 410.80,100.51 411.30,100.44 411.80,100.37 412.30,100.31 412.80,100.26 413.30,100.21 413.80,100.17 414.30,100.14 414.80,100.12 415.30,100.11 415.80,100.10 416.30,100.10 416.80,100.11 417.30,100.13 417.80,100.15 418.30,100.19 418.80,100.23 419.30,100.28 419.80,100.33 420.30,100.40 420.80,100.47 421.30,100.55 421.80,100.64 422.30,100.74 422.80,100.84 423.30,100.96 423.80,101.08 424.30,101.21 424.80,101.35 425.30,101.49 425.80,101.65 426.30,101.81 426.80,101.98 427.30,102.16 427.80,102.35 428.30,102.54 428.80,102.75 429.30,102.96 429.80,103.18 430.30,103.40 430.80,103.64 431.30,103.88 431.80,104.13 432.30,104.39 432.80,104.66 433.30,104.93 433.80,105.21 434.30,105.50 434.80,105.80 435.30,106.10 435.80,106.42 436.30,106.74 436.80,107.06 437.30,107.40 437.80,107.74 438.30,108.09 438.80,108.45 439.30,108.81 439.80,109.18 440.30,109.56 440.80,109.94 441.30,110.33 441.80,110.73 442.30,111.14 442.80,111.55 443.30,111.97 443.80,112.39 444.30,112.82 444.80,113.26 445.30,113.70 445.80,114.15 446.30,114.60 446.80,115.06 447.30,115.53 447.80,116.00 448.30,116.48 448.80,116.96 449.30,117.45 449.80,117.94 450.30,118.44 450.80,118.94 451.30,119.44 451.80,119.96 452.30,120.47 452.80,120.99 453.30,121.51 453.80,122.04 454.30,122.58 454.80,123.11 455.30,123.65 455.80,124.19 456.30,124.74 456.80,125.29 457.30,125.84 457.80,126.40 458.30,126.95 458.80,127.51 459.30,128.08 459.80,128.64 460.30,129.21 460.80,129.78 461.30,130.35 461.80,130.92 462.30,131.49 462.80,132.07 463.30,132.64 463.80,133.22 464.30,133.80 464.80,134.38 465.30,134.96 465.80,135.53 466.30,136.11 466.80,136.69 467.30,137.27 467.80,137.85 468.30,138.43 468.80,139.00 469.30,139.58 469.80,140.15 470.30,140.73 470.80,141.30 471.30,141.87 471.80,142.43 472.30,143.00 472.80,143.56 473.30,144.13 473.80,144.68 474.30,145.24 474.80,145.79 475.30,146.34 475.80,146.89 476.30,147.43 476.80,147.97 477.30,148.51 477.80,149.04 478.30,149.57 478.80,150.09 479.30,150.61 479.80,151.12 480.30,151.63 480.80,152.14 481.30,152.64 481.80,153.13 482.30,153.62 482.80,154.10 483.30,154.58 483.80,155.05 484.30,155.52 484.80,155.98 485.30,156.43 485.80,156.88 486.30,157.31 486.80,157.75 487.30,158.17 487.80,158.59 488.30,159.00 488.80,159.41 489.30,159.80 489.80,160.19 490.30,160.57 490.80,160.95 491.30,161.31 491.80,161.67 492.30,162.02 492.80,162.36 493.30,162.69 493.80,163.01 494.30,163.32 494.80,163.63 495.30,163.93 495.80,164.21 496.30,164.49 496.80,164.76 497.30,165.02 497.80,165.27 498.30,165.51 498.80,165.74 499.30,165.97 499.80,166.18 500.30,166.38 500.80,166.57 501.30,166.76 501.80,166.93 502.30,167.09 502.80,167.24 503.30,167.39 503.80,167.52 504.30,167.64 504.80,167.75"/>
</g>
<line x1="93.7" y1="201.9" x2="504.9" y2="201.9" stroke="#000" stroke-width="2.2"/>
<path d="M94.3,210 L99.1,202.5 M101.5,210 L106.3,202.5 M108.7,210 L113.5,202.5 M115.9,210 L120.7,202.5 M123.1,210 L127.9,202.5 M130.3,210 L135.1,202.5 M137.5,210 L142.3,202.5 M144.7,210 L149.5,202.5 M151.9,210 L156.7,202.5 M159.1,210 L163.9,202.5 M166.3,210 L171.1,202.5 M173.5,210 L178.3,202.5 M180.7,210 L185.5,202.5 M187.9,210 L192.7,202.5 M195.1,210 L199.9,202.5 M202.3,210 L207.1,202.5 M209.5,210 L214.3,202.5 M216.7,210 L221.5,202.5 M223.9,210 L228.7,202.5 M231.1,210 L235.9,202.5 M238.3,210 L243.1,202.5 M245.5,210 L250.3,202.5 M252.7,210 L257.5,202.5 M259.9,210 L264.7,202.5 M267.1,210 L271.9,202.5 M274.3,210 L279.1,202.5 M281.5,210 L286.3,202.5 M288.7,210 L293.5,202.5 M295.9,210 L300.7,202.5 M303.1,210 L307.9,202.5 M310.3,210 L315.1,202.5 M317.5,210 L322.3,202.5 M324.7,210 L329.5,202.5 M331.9,210 L336.7,202.5 M339.1,210 L343.9,202.5 M346.3,210 L351.1,202.5 M353.5,210 L358.3,202.5 M360.7,210 L365.5,202.5 M367.9,210 L372.7,202.5 M375.1,210 L379.9,202.5 M382.3,210 L387.1,202.5 M389.5,210 L394.3,202.5 M396.7,210 L401.5,202.5 M403.9,210 L408.7,202.5 M411.1,210 L415.9,202.5 M418.3,210 L423.1,202.5 M425.5,210 L430.3,202.5 M432.7,210 L437.5,202.5 M439.9,210 L444.7,202.5 M447.1,210 L451.9,202.5 M454.3,210 L459.1,202.5 M461.5,210 L466.3,202.5 M468.7,210 L473.5,202.5 M475.9,210 L480.7,202.5 M483.1,210 L487.9,202.5 M490.3,210 L495.1,202.5 M497.5,210 L502.3,202.5" stroke="#000" stroke-width="2.6" fill="none"/>
<line x1="94.4" y1="171" x2="504.9" y2="171" stroke="#000" stroke-width="3.2" stroke-dasharray="7.3 5.53"/>
<line x1="194.6" y1="69.3" x2="194.6" y2="175" stroke="#000" stroke-width="2.6" stroke-dasharray="10.4 8.8"/>
<line x1="399.3" y1="67" x2="399.3" y2="173" stroke="#000" stroke-width="2.6" stroke-dasharray="10.4 8.8"/>
<line x1="162" y1="65.9" x2="193.4" y2="165" stroke="#000" stroke-width="2.8"/>
<path d="M195.4,172.5 L188.2,163.5 L196.8,162.2 Z" fill="#000"/>
<line x1="400.7" y1="171" x2="430.5" y2="76" stroke="#000" stroke-width="2.8"/>
<path d="M434.5,63.8 L424.0,75.6 L435.6,79.2 Z" fill="#000"/>
<path d="M184,134 Q189,129.3 195,132.5" fill="none" stroke="#000" stroke-width="2"/>
<line x1="190.5" y1="132.5" x2="196" y2="132.5" stroke="#000" stroke-width="2"/>
<path d="M399.3,132 Q405,127.7 411.5,131.5" fill="none" stroke="#000" stroke-width="2"/>
<line x1="398.5" y1="131" x2="401.5" y2="131" stroke="#000" stroke-width="2"/>
<text transform="translate(146.0,71.0) scale(0.95,1)" font-family="'Liberation Serif', serif" font-weight="bold" font-style="italic" font-size="40.5">e</text>
<text transform="translate(160.4,58.6) scale(1.1,1.3)" font-family="'Liberation Serif', serif" font-weight="bold" font-size="25">-</text>
<text transform="translate(174.6,87.6) skewX(-8) scale(1.08,1)" font-family="'Liberation Serif', serif" font-style="italic" font-size="26" fill="#222" stroke="#222" stroke-width="0.3">β</text>
<text x="406.2" y="83" font-family="'Liberation Serif', serif" font-style="italic" font-size="27" fill="#222" stroke="#222" stroke-width="0.3">θ</text>
</g>
<defs><clipPath id="ca"><rect x="84" y="0" width="705" height="574"/></clipPath><clipPath id="cb"><rect x="785" y="0" width="705" height="574"/></clipPath><clipPath id="cc"><rect x="84" y="574" width="705" height="574"/></clipPath><clipPath id="cd"><rect x="785" y="574" width="705" height="574"/></clipPath></defs>
<g clip-path="url(#ca)"><path d="M83.7,522.0 C85.6,521.7 92.5,521.2 95.0,520.0 C97.5,518.8 97.2,518.8 98.7,514.6 C100.2,510.4 101.6,500.5 103.7,494.7 C105.8,488.9 108.7,485.5 111.2,479.7 C113.7,473.9 116.6,467.2 118.7,459.7 C120.8,452.2 122.5,441.3 123.7,434.7 C125.0,428.1 125.2,423.9 126.2,419.8 C127.2,415.7 128.1,414.8 130.0,409.8 C131.9,404.8 135.1,397.3 137.4,389.8 C139.7,382.3 142.0,370.6 143.7,364.8 C145.4,359.0 146.2,358.5 147.4,354.8 C148.7,351.1 149.9,347.0 151.2,342.4 C152.4,337.8 153.7,332.8 154.9,327.4 C156.2,322.0 157.4,313.6 158.7,309.9 C159.9,306.1 160.9,306.6 162.4,304.9 C163.9,303.2 166.0,302.4 167.4,299.9 C168.8,297.4 169.7,293.6 171.1,289.9 C172.5,286.1 174.2,280.5 176.1,277.4 C178.0,274.3 180.5,273.7 182.4,271.2 C184.3,268.7 186.0,265.0 187.4,262.5 C188.8,260.0 189.8,257.6 191.1,256.2 C192.3,254.8 193.7,254.0 194.9,254.2 C196.2,254.4 197.4,256.2 198.6,257.5 C199.8,258.8 201.1,261.8 202.3,262.0 C203.6,262.2 204.6,259.2 206.1,258.7 C207.6,258.1 209.4,258.1 211.1,258.7 C212.8,259.3 214.2,262.1 216.1,262.5 C218.0,262.9 220.4,260.4 222.3,261.2 C224.2,262.0 225.6,265.6 227.3,267.5 C229.0,269.4 230.6,272.1 232.3,272.9 C234.0,273.7 235.8,270.8 237.3,272.4 C238.8,274.0 239.7,280.3 241.1,282.4 C242.5,284.5 244.1,283.8 246.0,285.0 C247.9,286.2 250.6,287.8 252.3,289.9 C254.0,292.0 254.8,297.8 256.0,297.4 C257.2,297.0 258.1,291.3 259.8,287.4 C261.5,283.4 264.1,275.4 266.0,273.7 C267.9,272.0 269.5,277.2 271.0,277.4 C272.5,277.6 273.5,276.4 275.0,275.0 C276.5,273.6 278.6,270.9 280.0,269.0 C281.4,267.1 282.2,263.8 283.7,263.7 C285.1,263.6 287.0,269.1 288.7,268.7 C290.4,268.3 292.0,263.5 293.7,261.2 C295.4,258.9 297.1,256.8 298.7,255.0 C300.2,253.2 301.6,250.1 303.0,250.5 C304.4,250.9 305.6,255.8 307.0,257.5 C308.4,259.2 309.7,261.4 311.2,260.5 C312.7,259.6 314.7,252.9 316.2,252.0 C317.7,251.1 319.0,252.8 320.0,255.0 C321.0,257.2 321.4,264.0 322.4,265.0 C323.4,266.0 325.1,260.4 326.2,261.2 C327.2,262.0 327.4,266.9 328.7,270.0 C329.9,273.1 332.2,276.5 333.7,280.0 C335.1,283.5 335.5,287.7 337.4,291.2 C339.3,294.7 343.0,297.2 344.9,301.2 C346.8,305.1 347.4,311.2 348.7,314.9 C349.9,318.6 350.9,320.3 352.4,323.6 C353.8,326.9 355.9,329.7 357.4,334.9 C358.8,340.1 359.9,348.6 361.1,354.8 C362.4,361.0 363.4,366.5 364.9,372.3 C366.4,378.1 368.2,383.8 369.9,389.8 C371.6,395.8 373.2,404.3 374.9,408.5 C376.6,412.7 378.2,410.9 379.9,414.8 C381.6,418.8 383.4,426.0 384.9,432.2 C386.3,438.4 387.2,446.4 388.6,452.2 C390.1,458.0 392.2,461.4 393.6,467.2 C395.1,473.0 395.9,483.4 397.3,487.2 C398.8,490.9 400.6,487.2 402.3,489.7 C404.0,492.2 405.4,498.0 407.3,502.2 C409.2,506.4 411.7,511.7 413.6,514.6 C415.5,517.5 417.4,517.7 418.6,519.6 C419.9,521.5 419.7,525.3 421.1,525.9 C422.6,526.5 424.8,524.0 427.3,523.4 C429.8,522.8 433.8,524.2 436.1,522.1 C438.4,520.0 439.6,513.4 441.0,510.9 C442.4,508.4 443.3,508.4 444.8,507.2 C446.3,505.9 448.1,505.9 449.8,503.4 C451.5,500.9 452.9,496.6 454.8,492.2 C456.7,487.8 459.1,482.6 461.0,477.2 C462.9,471.8 464.5,464.6 466.0,459.7 C467.5,454.8 468.7,451.3 470.0,448.0 C471.3,444.7 472.2,443.1 473.7,439.7 C475.1,436.2 477.2,433.5 478.7,427.3 C480.2,421.1 481.2,409.0 482.5,402.3 C483.8,395.6 484.9,391.1 486.2,387.3 C487.4,383.6 488.8,382.3 490.0,379.8 C491.2,377.3 492.4,375.6 493.7,372.3 C494.9,369.0 496.2,364.4 497.5,359.8 C498.8,355.2 500.2,349.5 501.2,344.9 C502.2,340.3 502.6,335.7 503.7,332.4 C504.8,329.1 506.2,327.8 507.5,324.9 C508.8,322.0 510.0,318.8 511.2,314.9 C512.4,310.9 513.4,304.5 514.9,301.2 C516.4,297.9 518.4,298.4 519.9,294.9 C521.4,291.3 522.2,283.6 523.7,279.9 C525.2,276.2 527.0,274.5 528.7,272.9 C530.4,271.2 532.2,272.1 533.7,270.0 C535.2,267.9 536.0,263.1 537.4,260.0 C538.8,256.9 541.1,253.6 542.4,251.2 C543.6,248.8 543.6,245.9 544.9,245.5 C546.1,245.1 548.0,248.4 549.9,248.7 C551.8,249.0 554.4,247.4 556.1,247.5 C557.8,247.6 558.9,249.6 559.9,249.5 C560.9,249.4 561.1,245.7 561.9,247.0 C562.7,248.3 563.6,256.0 564.9,257.5 C566.2,259.0 568.2,254.5 569.9,256.2 C571.6,257.9 573.2,264.0 574.9,267.5 C576.6,271.0 578.4,275.5 579.9,277.4 C581.4,279.3 582.1,279.1 583.6,278.7 C585.1,278.3 587.1,274.1 588.6,274.9 C590.1,275.7 591.0,281.6 592.4,283.7 C593.8,285.8 595.8,285.7 597.3,287.4 C598.8,289.1 599.6,294.5 601.1,293.7 C602.6,292.9 604.6,283.0 606.1,282.4 C607.6,281.8 608.7,289.1 610.0,289.9 C611.3,290.7 612.0,289.9 613.7,287.4 C615.4,284.9 617.9,276.3 620.0,274.9 C622.1,273.4 623.9,279.3 626.2,278.7 C628.5,278.1 631.4,274.1 633.7,271.2 C636.0,268.3 637.9,261.6 640.0,261.2 C642.1,260.8 644.3,268.9 646.2,268.7 C648.1,268.5 649.7,261.9 651.2,260.0 C652.7,258.1 653.6,259.6 655.0,257.5 C656.4,255.4 657.9,248.1 659.4,247.5 C660.9,246.9 662.0,252.0 663.7,253.7 C665.5,255.4 668.0,256.2 669.9,257.5 C671.8,258.8 673.2,257.2 674.9,261.2 C676.6,265.1 678.2,278.7 679.9,281.2 C681.6,283.7 683.4,276.0 684.9,276.2 C686.4,276.4 687.5,278.2 688.7,282.4 C690.0,286.6 691.0,297.4 692.4,301.2 C693.8,304.9 695.7,301.8 697.4,304.9 C699.1,308.0 700.9,315.7 702.4,319.9 C703.9,324.1 704.9,325.7 706.1,329.9 C707.4,334.1 708.2,338.2 709.9,344.9 C711.6,351.5 714.0,363.1 716.1,369.8 C718.2,376.5 720.7,379.8 722.4,384.8 C724.1,389.8 724.9,393.6 726.1,399.8 C727.4,406.1 728.5,417.3 729.9,422.3 C731.3,427.3 733.1,424.8 734.8,429.8 C736.4,434.8 738.1,447.2 739.8,452.2 C741.5,457.2 742.9,455.5 744.8,459.7 C746.7,463.9 749.4,470.9 751.1,477.2 C752.8,483.4 753.3,491.4 754.8,497.2 C756.2,503.0 757.7,507.7 759.8,512.1 C761.9,516.5 765.2,521.9 767.3,523.4 C769.4,524.9 770.4,520.1 772.3,520.9 C774.2,521.7 776.4,527.6 778.5,528.4 C780.6,529.2 783.4,526.6 784.8,525.9 C786.2,525.2 786.6,524.3 787.0,524.0" fill="none" stroke="#ff0000" stroke-width="5.0" stroke-linejoin="round" stroke-linecap="round"/></g>
<g clip-path="url(#cb)"><path d="M786.0,533.0 C786.3,532.8 786.1,533.3 787.8,532.0 C789.5,530.7 793.7,528.0 796.0,525.0 C798.3,522.0 799.4,518.3 801.7,513.9 C804.0,509.5 807.5,504.6 810.0,498.6 C812.5,492.6 814.7,484.1 817.0,477.8 C819.3,471.6 821.6,467.1 823.9,461.1 C826.2,455.1 828.5,448.6 830.8,441.7 C833.1,434.8 835.7,424.5 837.8,419.4 C839.9,414.3 841.2,416.2 843.3,411.1 C845.4,406.0 848.0,396.3 850.3,388.9 C852.6,381.5 855.1,374.1 857.2,366.7 C859.3,359.3 860.9,349.5 862.8,344.4 C864.6,339.3 866.4,339.8 868.3,336.1 C870.1,332.4 872.0,326.4 873.9,322.2 C875.8,318.0 877.5,316.2 879.4,311.1 C881.2,306.0 882.7,296.1 885.0,291.7 C887.3,287.3 890.5,287.0 893.3,284.7 C896.1,282.4 899.4,280.4 901.7,277.8 C904.0,275.2 904.9,270.8 907.2,269.4 C909.5,268.0 913.3,271.5 915.6,269.4 C917.9,267.3 919.5,256.9 921.1,256.9 C922.7,256.9 923.7,266.1 925.3,269.4 C926.9,272.6 928.9,275.9 930.8,276.4 C932.6,276.9 934.5,271.0 936.4,272.2 C938.3,273.4 939.9,280.5 942.0,283.3 C944.1,286.1 946.8,286.8 948.9,288.9 C951.0,291.0 952.5,294.6 954.4,295.8 C956.2,297.0 958.1,297.2 960.0,295.8 C961.9,294.4 964.0,288.4 965.6,287.5 C967.2,286.6 967.9,292.4 969.7,290.3 C971.6,288.2 974.4,278.9 976.7,275.0 C979.0,271.1 981.5,267.2 983.6,266.7 C985.7,266.2 987.4,274.1 989.2,272.2 C991.1,270.3 993.1,260.2 994.7,255.6 C996.3,251.0 997.3,245.8 998.9,244.4 C1000.5,243.0 1002.6,248.6 1004.4,247.2 C1006.1,245.8 1008.0,239.3 1009.4,236.1 C1010.8,232.9 1011.5,227.8 1012.8,227.8 C1014.0,227.8 1014.8,233.8 1016.9,236.1 C1019.0,238.4 1022.8,240.1 1025.3,241.7 C1027.8,243.3 1030.1,243.0 1032.2,245.8 C1034.3,248.6 1036.2,255.3 1037.8,258.3 C1039.4,261.3 1040.1,261.3 1041.9,263.9 C1043.8,266.4 1046.6,268.5 1048.9,273.6 C1051.2,278.7 1053.5,288.4 1055.8,294.4 C1058.1,300.4 1060.9,303.7 1062.8,309.7 C1064.7,315.7 1065.5,324.6 1066.9,330.6 C1068.3,336.6 1069.5,339.8 1071.1,345.8 C1072.7,351.8 1074.6,359.1 1076.7,366.7 C1078.8,374.3 1081.3,382.9 1083.6,391.7 C1085.9,400.5 1088.5,411.5 1090.6,419.4 C1092.7,427.3 1094.2,431.9 1096.1,438.9 C1097.9,445.8 1100.1,456.5 1101.7,461.1 C1103.3,465.7 1104.2,462.5 1105.8,466.7 C1107.4,470.9 1109.6,480.3 1111.4,486.1 C1113.2,491.9 1114.8,496.1 1116.9,501.4 C1119.0,506.7 1121.8,513.7 1123.9,518.1 C1126.0,522.5 1127.8,525.5 1129.4,527.8 C1131.0,530.1 1131.8,532.4 1133.6,531.9 C1135.4,531.4 1137.9,526.6 1140.0,525.0 C1142.1,523.4 1143.5,525.0 1146.1,522.2 C1148.7,519.4 1152.5,513.9 1155.8,508.3 C1159.0,502.8 1163.0,494.9 1165.6,488.9 C1168.1,482.9 1169.0,477.8 1171.1,472.2 C1173.2,466.6 1175.8,462.5 1178.1,455.6 C1180.4,448.7 1182.9,436.6 1185.0,430.6 C1187.1,424.6 1189.0,423.6 1190.6,419.4 C1192.2,415.2 1192.8,409.8 1194.7,405.6 C1196.6,401.4 1199.4,400.9 1201.7,394.4 C1204.0,387.9 1206.3,375.0 1208.6,366.7 C1210.9,358.4 1213.3,351.3 1215.6,344.4 C1217.9,337.4 1220.7,330.1 1222.5,325.0 C1224.3,319.9 1224.9,319.0 1226.7,313.9 C1228.5,308.8 1231.3,298.3 1233.6,294.4 C1235.9,290.5 1238.5,291.9 1240.6,290.3 C1242.7,288.7 1244.2,287.5 1246.1,284.7 C1247.9,281.9 1249.6,275.9 1251.7,273.6 C1253.8,271.3 1256.3,272.0 1258.6,270.8 C1260.9,269.6 1263.5,267.4 1265.6,266.7 C1267.7,266.0 1269.2,265.8 1271.1,266.7 C1272.9,267.6 1274.8,272.0 1276.7,272.2 C1278.6,272.4 1279.9,265.7 1282.2,268.0 C1284.5,270.3 1287.8,283.8 1290.6,286.1 C1293.4,288.4 1296.4,282.1 1298.9,281.9 C1301.4,281.7 1304.0,282.8 1305.8,284.7 C1307.6,286.6 1308.2,293.2 1310.0,293.0 C1311.8,292.8 1314.8,284.7 1316.9,283.3 C1319.0,281.9 1320.6,285.1 1322.5,284.7 C1324.4,284.2 1326.5,282.5 1328.1,280.6 C1329.7,278.8 1330.6,275.7 1332.2,273.6 C1333.8,271.5 1336.2,270.1 1337.8,268.0 C1339.4,265.9 1340.1,263.0 1341.9,261.1 C1343.8,259.2 1346.8,259.4 1348.9,256.9 C1351.0,254.3 1352.8,249.7 1354.4,245.8 C1356.0,241.9 1356.7,234.7 1358.6,233.3 C1360.5,231.9 1363.8,236.1 1365.6,237.5 C1367.4,238.9 1368.1,242.8 1369.7,241.7 C1371.3,240.5 1373.5,229.9 1375.3,230.6 C1377.1,231.3 1378.9,242.3 1380.8,245.8 C1382.7,249.3 1384.6,249.3 1386.4,251.4 C1388.2,253.5 1390.1,256.9 1391.9,258.3 C1393.8,259.7 1395.9,256.0 1397.5,259.7 C1399.1,263.4 1400.3,275.7 1401.7,280.6 C1403.1,285.5 1404.2,284.7 1405.8,288.9 C1407.4,293.1 1409.6,298.7 1411.4,305.6 C1413.2,312.6 1414.8,323.0 1416.9,330.6 C1419.0,338.2 1421.6,343.5 1423.9,351.4 C1426.2,359.3 1428.7,371.1 1430.8,377.8 C1432.9,384.5 1434.8,385.7 1436.4,391.7 C1438.0,397.7 1439.0,407.0 1440.6,413.9 C1442.2,420.8 1444.0,425.9 1446.1,433.3 C1448.2,440.7 1451.0,449.0 1453.1,458.3 C1455.2,467.6 1456.5,481.5 1458.6,488.9 C1460.7,496.3 1463.3,497.7 1465.6,502.8 C1467.9,507.9 1470.7,515.7 1472.5,519.4 C1474.3,523.1 1475.1,523.6 1476.7,525.0 C1478.3,526.4 1480.4,526.6 1482.2,527.8 C1484.0,528.9 1486.2,531.0 1487.8,531.9 C1489.4,532.8 1491.3,532.8 1492.0,533.0" fill="none" stroke="#535353" stroke-width="5.0" stroke-linejoin="round" stroke-linecap="round"/>
<path d="M785.0,525.0 C786.4,523.8 790.8,520.1 793.3,518.0 C795.8,515.9 798.2,514.6 800.3,512.5 C802.4,510.4 803.9,509.5 805.8,505.6 C807.6,501.7 809.5,495.4 811.4,488.9 C813.3,482.4 814.7,472.7 817.0,466.7 C819.3,460.7 823.0,458.8 825.3,452.8 C827.6,446.8 828.9,437.6 830.8,430.6 C832.6,423.7 834.5,416.7 836.4,411.1 C838.3,405.5 840.1,402.3 842.0,397.2 C843.9,392.1 845.4,386.6 847.5,380.6 C849.6,374.6 852.3,367.1 854.4,361.1 C856.5,355.1 858.1,348.6 860.0,344.4 C861.9,340.2 864.2,341.2 865.6,336.1 C867.0,331.0 866.7,318.8 868.3,313.9 C869.9,309.0 873.2,310.6 875.3,306.9 C877.4,303.2 878.9,295.6 880.8,291.7 C882.6,287.8 884.8,286.3 886.4,283.3 C888.0,280.3 889.0,275.5 890.6,273.6 C892.2,271.8 894.0,273.6 896.1,272.2 C898.2,270.8 900.7,266.2 903.0,265.3 C905.3,264.4 907.9,266.2 910.0,266.7 C912.1,267.1 914.0,268.7 915.6,268.0 C917.2,267.3 917.9,262.9 919.7,262.5 C921.6,262.1 924.6,263.0 926.7,265.3 C928.8,267.6 930.1,273.2 932.2,276.4 C934.3,279.6 936.9,283.5 939.2,284.7 C941.5,285.9 944.0,282.1 946.1,283.3 C948.2,284.5 950.1,289.6 951.7,291.7 C953.3,293.8 954.4,296.3 955.8,295.8 C957.2,295.3 958.6,290.8 960.0,288.9 C961.4,287.0 962.6,284.8 964.2,284.7 C965.8,284.6 967.9,289.2 969.7,288.3 C971.6,287.4 973.4,281.6 975.3,279.2 C977.1,276.8 979.2,275.0 980.8,273.6 C982.4,272.2 983.6,270.6 985.0,270.8 C986.4,271.0 987.6,276.6 989.2,275.0 C990.8,273.4 992.9,265.0 994.7,261.1 C996.6,257.2 998.4,252.8 1000.3,251.4 C1002.1,250.0 1004.2,254.4 1005.8,252.8 C1007.4,251.2 1008.8,244.5 1010.0,241.7 C1011.2,238.9 1011.9,236.1 1013.3,236.1 C1014.7,236.1 1016.1,239.6 1018.3,241.7 C1020.5,243.8 1024.2,246.3 1026.7,248.6 C1029.2,250.9 1031.5,251.9 1033.6,255.6 C1035.7,259.3 1037.3,265.9 1039.2,270.8 C1041.1,275.7 1042.9,281.7 1044.7,284.7 C1046.5,287.7 1048.5,284.5 1050.3,288.9 C1052.1,293.3 1053.9,304.2 1055.8,311.1 C1057.7,318.1 1059.8,323.9 1061.4,330.6 C1063.0,337.3 1064.0,345.8 1065.6,351.4 C1067.2,356.9 1069.5,359.0 1071.1,363.9 C1072.7,368.8 1073.7,375.1 1075.3,380.6 C1076.9,386.2 1078.9,390.7 1080.8,397.2 C1082.7,403.7 1084.8,412.0 1086.4,419.4 C1088.0,426.8 1089.0,435.7 1090.6,441.7 C1092.2,447.7 1094.5,449.1 1096.1,455.6 C1097.7,462.1 1098.7,474.6 1100.3,480.6 C1101.9,486.6 1103.7,488.0 1105.8,491.7 C1107.9,495.4 1110.7,498.6 1112.8,502.8 C1114.9,507.0 1116.2,512.8 1118.3,516.7 C1120.4,520.6 1123.2,524.1 1125.3,526.4 C1127.4,528.7 1128.9,531.1 1130.8,530.6 C1132.7,530.1 1134.6,524.8 1136.4,523.6 C1138.2,522.4 1140.1,525.5 1141.9,523.6 C1143.8,521.8 1145.2,516.2 1147.5,512.5 C1149.8,508.8 1153.2,505.3 1155.8,501.4 C1158.3,497.5 1160.7,494.7 1162.8,488.9 C1164.9,483.1 1166.4,472.7 1168.3,466.7 C1170.2,460.7 1172.1,458.4 1173.9,452.8 C1175.8,447.2 1177.6,438.4 1179.4,433.3 C1181.2,428.2 1183.4,427.8 1185.0,422.2 C1186.6,416.6 1187.6,405.1 1189.2,400.0 C1190.8,394.9 1192.9,395.9 1194.7,391.7 C1196.5,387.5 1198.5,381.0 1200.3,375.0 C1202.1,369.0 1203.7,362.1 1205.8,355.6 C1207.9,349.1 1210.7,342.6 1212.8,336.1 C1214.9,329.6 1216.4,320.9 1218.3,316.7 C1220.2,312.5 1222.1,315.3 1223.9,311.1 C1225.8,306.9 1227.8,296.3 1229.4,291.7 C1231.0,287.1 1231.5,285.6 1233.6,283.3 C1235.7,281.0 1239.4,280.8 1241.9,277.8 C1244.5,274.8 1246.8,268.1 1248.9,265.3 C1251.0,262.5 1252.6,262.0 1254.4,261.1 C1256.2,260.2 1258.1,258.8 1260.0,259.7 C1261.9,260.6 1263.8,265.8 1265.6,266.7 C1267.4,267.6 1269.2,266.7 1271.1,265.3 C1272.9,263.9 1274.8,258.3 1276.7,258.3 C1278.6,258.3 1280.4,263.2 1282.2,265.3 C1284.0,267.4 1286.0,269.2 1287.8,270.8 C1289.6,272.4 1291.4,272.9 1293.3,275.0 C1295.2,277.1 1296.8,281.7 1298.9,283.3 C1301.0,284.9 1304.0,284.7 1305.8,284.7 C1307.6,284.7 1308.6,282.1 1310.0,283.3 C1311.4,284.5 1312.9,289.1 1314.2,291.7 C1315.5,294.2 1316.4,300.0 1317.8,298.6 C1319.2,297.2 1320.3,284.7 1322.5,283.3 C1324.7,281.9 1328.5,291.0 1330.8,290.3 C1333.1,289.6 1334.8,282.0 1336.4,279.2 C1338.0,276.4 1339.2,275.9 1340.6,273.6 C1342.0,271.3 1342.8,268.5 1344.7,265.3 C1346.6,262.1 1349.6,256.5 1351.7,254.2 C1353.8,251.9 1355.4,253.0 1357.2,251.4 C1359.0,249.8 1361.0,245.8 1362.8,244.4 C1364.6,243.0 1366.7,243.1 1368.3,243.1 C1369.9,243.1 1370.9,242.6 1372.5,244.4 C1374.1,246.2 1376.0,252.1 1378.1,254.2 C1380.2,256.3 1382.7,255.5 1385.0,256.9 C1387.3,258.3 1389.8,259.5 1391.9,262.5 C1394.0,265.5 1395.9,270.6 1397.5,275.0 C1399.1,279.4 1400.1,282.9 1401.7,288.9 C1403.3,294.9 1405.6,306.5 1407.2,311.1 C1408.8,315.7 1410.0,312.5 1411.4,316.7 C1412.8,320.9 1414.2,330.6 1415.6,336.1 C1417.0,341.7 1418.3,345.4 1419.7,350.0 C1421.1,354.6 1422.5,357.4 1423.9,363.9 C1425.3,370.4 1426.7,382.4 1428.1,388.9 C1429.5,395.4 1430.6,398.2 1432.2,402.8 C1433.8,407.4 1436.0,410.7 1437.8,416.7 C1439.6,422.7 1441.4,432.0 1443.3,438.9 C1445.2,445.8 1447.3,452.5 1448.9,458.3 C1450.5,464.1 1451.7,467.6 1453.1,473.6 C1454.5,479.6 1455.6,489.5 1457.2,494.4 C1458.8,499.3 1461.0,499.1 1462.8,502.8 C1464.6,506.5 1466.4,512.8 1468.3,516.7 C1470.2,520.6 1472.3,523.6 1473.9,526.4 C1475.5,529.2 1476.5,532.4 1478.1,533.3 C1479.7,534.2 1481.8,532.3 1483.6,531.9 C1485.4,531.5 1487.8,531.0 1489.2,530.6 C1490.6,530.2 1491.5,529.7 1492.0,529.5" fill="none" stroke="#ff0000" stroke-width="5.0" stroke-linejoin="round" stroke-linecap="round"/></g>
<g clip-path="url(#cc)"><path d="M84.0,1101.4 C85.1,1101.2 88.5,1100.0 90.6,1100.0 C92.6,1100.0 94.4,1102.4 96.3,1101.4 C98.2,1100.5 99.9,1097.4 102.0,1094.3 C104.1,1091.2 107.2,1084.8 109.1,1082.9 C111.0,1081.0 111.5,1087.2 113.4,1082.9 C115.3,1078.6 118.4,1062.8 120.6,1057.1 C122.8,1051.4 124.4,1052.9 126.3,1048.6 C128.2,1044.3 130.3,1037.6 132.0,1031.4 C133.7,1025.2 134.6,1016.4 136.3,1011.4 C138.0,1006.4 139.9,1005.2 142.0,1001.4 C144.1,997.6 146.9,995.5 149.1,988.6 C151.2,981.7 152.8,967.1 154.9,960.0 C157.1,952.9 159.9,950.5 162.0,945.7 C164.1,940.9 165.8,935.2 167.7,931.4 C169.6,927.6 171.5,926.2 173.4,922.9 C175.3,919.6 176.9,915.7 179.1,911.4 C181.2,907.1 183.9,902.8 186.3,897.1 C188.7,891.4 190.8,881.4 193.4,877.1 C196.0,872.8 199.1,874.0 202.0,871.4 C204.9,868.8 208.2,862.3 210.6,861.4 C213.0,860.5 214.2,865.9 216.3,865.7 C218.4,865.5 221.0,860.7 223.4,860.0 C225.8,859.3 228.4,862.4 230.6,861.4 C232.8,860.4 233.9,855.2 236.3,854.3 C238.7,853.3 242.1,854.8 244.9,855.7 C247.8,856.7 251.4,859.3 253.4,860.0 C255.4,860.7 255.4,858.6 257.0,860.0 C258.6,861.4 260.8,868.4 262.7,868.6 C264.6,868.8 266.2,864.0 268.4,861.4 C270.5,858.8 273.5,855.8 275.6,852.9 C277.8,850.0 279.6,848.3 281.3,844.3 C283.0,840.2 283.9,832.6 285.6,828.6 C287.3,824.6 289.4,824.8 291.3,820.0 C293.2,815.2 295.1,805.5 297.0,800.0 C298.9,794.5 300.8,789.0 302.7,787.1 C304.6,785.2 306.5,790.5 308.4,788.6 C310.3,786.7 312.4,776.9 314.1,775.7 C315.8,774.5 316.7,782.4 318.4,781.4 C320.1,780.4 322.2,770.2 324.1,770.0 C326.0,769.8 328.0,776.7 329.9,780.0 C331.8,783.3 333.9,787.6 335.6,790.0 C337.3,792.4 338.2,791.7 339.9,794.3 C341.6,796.9 343.9,801.9 345.6,805.7 C347.3,809.5 348.5,811.4 349.9,817.1 C351.3,822.8 352.4,833.8 354.1,840.0 C355.8,846.2 358.0,847.6 359.9,854.3 C361.8,861.0 363.9,874.3 365.6,880.0 C367.3,885.7 368.5,882.9 369.9,888.6 C371.3,894.3 372.4,906.2 374.1,914.3 C375.8,922.4 378.2,929.5 379.9,937.1 C381.6,944.7 382.7,951.9 384.1,960.0 C385.5,968.1 386.7,978.1 388.4,985.7 C390.1,993.3 392.2,997.6 394.1,1005.7 C396.0,1013.8 398.0,1026.2 399.9,1034.3 C401.8,1042.4 403.9,1048.1 405.6,1054.3 C407.3,1060.5 408.2,1067.6 409.9,1071.4 C411.6,1075.2 413.7,1074.2 415.6,1077.1 C417.5,1080.0 419.4,1085.5 421.3,1088.6 C423.2,1091.7 424.9,1093.3 427.0,1095.7 C429.1,1098.1 432.3,1102.7 434.1,1102.9 C435.9,1103.1 435.9,1100.0 437.7,1097.1 C439.5,1094.2 442.5,1089.0 444.9,1085.7 C447.3,1082.4 449.4,1080.9 452.0,1077.1 C454.6,1073.3 458.0,1067.7 460.6,1062.9 C463.2,1058.2 465.8,1051.5 467.7,1048.6 C469.6,1045.7 470.6,1049.5 472.0,1045.7 C473.4,1041.9 474.6,1031.9 476.3,1025.7 C478.0,1019.5 480.1,1012.9 482.0,1008.6 C483.9,1004.3 485.8,1005.2 487.7,1000.0 C489.6,994.8 491.5,984.2 493.4,977.1 C495.3,970.0 497.2,963.8 499.1,957.1 C501.0,950.4 503.0,941.4 504.9,937.1 C506.8,932.8 508.7,935.2 510.6,931.4 C512.5,927.6 514.4,918.3 516.3,914.3 C518.2,910.2 520.1,910.0 522.0,907.1 C523.9,904.2 526.0,900.7 527.7,897.1 C529.4,893.5 530.3,889.3 532.0,885.7 C533.7,882.1 535.8,877.4 537.7,875.7 C539.6,874.0 541.5,877.6 543.4,875.7 C545.3,873.8 547.1,868.3 549.1,864.3 C551.1,860.2 553.5,852.3 555.4,851.4 C557.3,850.5 558.8,857.6 560.6,858.6 C562.4,859.6 564.2,857.1 566.3,857.1 C568.4,857.1 571.3,857.9 573.4,858.6 C575.5,859.3 577.4,862.1 579.1,861.4 C580.8,860.7 581.5,854.8 583.4,854.3 C585.3,853.8 588.2,857.4 590.6,858.6 C593.0,859.8 595.3,860.0 597.7,861.4 C600.1,862.8 602.6,868.3 604.9,867.1 C607.2,865.9 609.5,857.1 611.3,854.3 C613.1,851.4 614.2,851.4 615.6,850.0 C617.0,848.6 618.5,845.5 619.9,845.7 C621.3,845.9 622.4,855.5 624.1,851.4 C625.8,847.3 628.2,825.4 629.9,821.4 C631.6,817.4 632.4,827.8 634.1,827.1 C635.8,826.4 638.2,822.8 639.9,817.1 C641.6,811.4 642.7,798.1 644.1,792.9 C645.5,787.7 646.5,787.4 648.4,785.7 C650.3,784.0 653.2,782.9 655.6,782.9 C658.0,782.9 660.6,786.7 662.7,785.7 C664.8,784.7 666.5,777.3 668.4,777.1 C670.3,776.9 672.0,782.6 674.1,784.3 C676.2,786.0 679.1,785.0 681.3,787.1 C683.4,789.2 685.1,791.1 687.0,797.1 C688.9,803.1 690.6,815.3 692.7,822.9 C694.9,830.5 698.0,836.2 699.9,842.9 C701.8,849.6 702.4,856.2 704.1,862.9 C705.8,869.6 708.0,875.8 709.9,882.9 C711.8,890.0 713.7,898.1 715.6,905.7 C717.5,913.3 719.4,920.5 721.3,928.6 C723.2,936.7 725.3,946.2 727.0,954.3 C728.7,962.4 729.9,970.4 731.3,977.1 C732.7,983.8 734.2,987.6 735.6,994.3 C737.0,1001.0 738.5,1009.5 739.9,1017.1 C741.3,1024.7 742.4,1032.8 744.1,1040.0 C745.8,1047.2 748.0,1053.3 749.9,1060.0 C751.8,1066.7 753.7,1075.2 755.6,1080.0 C757.5,1084.8 759.2,1085.3 761.3,1088.6 C763.4,1091.9 766.5,1099.0 768.4,1100.0 C770.3,1101.0 771.0,1093.8 772.7,1094.3 C774.4,1094.8 776.2,1101.0 778.4,1102.9 C780.5,1104.8 784.0,1105.2 785.6,1105.7 C787.2,1106.2 787.6,1106.0 788.0,1106.0" fill="none" stroke="#535353" stroke-width="5.0" stroke-linejoin="round" stroke-linecap="round"/>
<path d="M84.0,1100.5 C84.8,1099.0 87.3,1094.6 89.1,1091.4 C90.9,1088.2 92.8,1083.8 94.9,1081.4 C97.1,1079.0 100.1,1080.2 102.0,1077.1 C103.9,1074.0 104.9,1067.7 106.3,1062.9 C107.7,1058.2 108.7,1053.4 110.6,1048.6 C112.5,1043.8 115.3,1039.1 117.7,1034.3 C120.1,1029.5 122.8,1025.2 124.9,1020.0 C127.1,1014.8 128.9,1009.1 130.6,1002.9 C132.3,996.7 133.5,987.2 134.9,982.9 C136.3,978.6 137.7,980.9 139.1,977.1 C140.5,973.3 142.0,963.3 143.4,960.0 C144.8,956.7 146.0,961.4 147.7,957.1 C149.4,952.8 151.5,939.3 153.4,934.3 C155.3,929.3 157.2,929.7 159.1,927.1 C161.0,924.5 163.2,922.6 164.9,918.6 C166.6,914.6 167.7,907.0 169.1,902.9 C170.5,898.8 171.5,896.7 173.4,894.3 C175.3,891.9 178.2,892.6 180.6,888.6 C183.0,884.6 185.6,874.3 187.7,870.0 C189.8,865.7 191.5,865.5 193.4,862.9 C195.3,860.3 196.7,856.7 199.1,854.3 C201.5,851.9 205.1,850.5 207.7,848.6 C210.3,846.7 213.0,843.1 214.9,842.9 C216.8,842.6 217.0,846.6 219.1,847.1 C221.2,847.6 224.8,845.5 227.7,845.7 C230.6,846.0 233.9,847.9 236.3,848.6 C238.7,849.3 240.1,849.5 242.0,850.0 C243.9,850.5 245.8,849.0 247.7,851.4 C249.6,853.8 251.7,863.1 253.4,864.3 C255.1,865.5 256.4,860.3 257.7,858.6 C259.0,856.9 260.0,854.3 261.3,854.3 C262.6,854.3 263.9,858.8 265.6,858.6 C267.3,858.4 269.6,854.6 271.3,852.9 C273.0,851.2 274.2,848.4 275.6,848.6 C277.0,848.8 278.5,854.5 279.9,854.3 C281.3,854.0 282.7,850.9 284.1,847.1 C285.5,843.3 286.7,837.1 288.4,831.4 C290.1,825.7 292.2,816.2 294.1,812.9 C296.0,809.6 297.8,812.8 299.9,811.4 C302.0,810.0 304.6,806.2 307.0,804.3 C309.4,802.4 311.7,801.9 314.1,800.0 C316.5,798.1 319.2,793.1 321.3,792.9 C323.4,792.7 325.1,796.9 327.0,798.6 C328.9,800.3 331.0,799.8 332.7,802.9 C334.4,806.0 335.3,811.6 337.0,817.1 C338.7,822.6 340.8,831.4 342.7,835.7 C344.6,840.0 346.5,837.9 348.4,842.9 C350.3,847.9 352.4,858.6 354.1,865.7 C355.8,872.8 357.0,879.5 358.4,885.7 C359.8,891.9 361.3,895.8 362.7,902.9 C364.1,910.0 365.6,921.0 367.0,928.6 C368.4,936.2 370.1,942.4 371.3,948.6 C372.5,954.8 372.9,958.1 374.1,965.7 C375.3,973.3 377.0,987.1 378.4,994.3 C379.8,1001.4 381.3,1002.9 382.7,1008.6 C384.1,1014.3 385.6,1023.4 387.0,1028.6 C388.4,1033.8 389.9,1035.2 391.3,1040.0 C392.7,1044.8 393.9,1051.9 395.6,1057.1 C397.3,1062.3 399.4,1066.6 401.3,1071.4 C403.2,1076.2 404.9,1081.2 407.0,1085.7 C409.1,1090.2 411.7,1097.4 414.1,1098.6 C416.5,1099.8 418.9,1092.7 421.3,1092.9 C423.7,1093.1 426.5,1100.7 428.4,1100.0 C430.3,1099.3 431.4,1092.2 432.7,1088.6 C434.0,1085.0 434.8,1079.5 436.3,1078.6 C437.9,1077.6 440.3,1084.6 442.0,1082.9 C443.7,1081.2 444.9,1071.9 446.3,1068.6 C447.7,1065.3 448.9,1067.2 450.6,1062.9 C452.3,1058.6 454.6,1047.2 456.3,1042.9 C458.0,1038.6 458.9,1040.4 460.6,1037.1 C462.3,1033.8 464.4,1028.1 466.3,1022.9 C468.2,1017.7 470.3,1009.5 472.0,1005.7 C473.7,1001.9 474.9,1003.3 476.3,1000.0 C477.7,996.7 479.2,990.7 480.6,985.7 C482.0,980.7 483.5,973.8 484.9,970.0 C486.3,966.2 487.7,966.9 489.1,962.9 C490.5,958.9 491.7,951.9 493.4,945.7 C495.1,939.5 497.7,930.7 499.1,925.7 C500.5,920.7 500.8,917.1 502.0,915.7 C503.2,914.3 504.9,919.2 506.3,917.1 C507.7,915.0 508.9,906.9 510.6,902.9 C512.3,898.9 514.4,895.0 516.3,892.9 C518.2,890.8 520.1,892.1 522.0,890.0 C523.9,887.9 525.8,882.9 527.7,880.0 C529.6,877.1 531.5,876.5 533.4,872.9 C535.3,869.3 537.2,861.0 539.1,858.6 C541.0,856.2 542.8,861.2 544.9,858.6 C547.0,856.0 549.9,845.3 552.0,842.9 C554.1,840.5 555.8,842.9 557.7,844.3 C559.6,845.7 561.2,850.0 563.4,851.4 C565.5,852.8 568.5,854.3 570.6,852.9 C572.8,851.5 574.2,843.6 576.3,842.9 C578.4,842.2 581.3,847.2 583.4,848.6 C585.5,850.0 587.0,849.5 589.1,851.4 C591.2,853.3 594.1,859.3 596.3,860.0 C598.4,860.7 600.1,855.5 602.0,855.7 C603.9,855.9 605.7,861.2 607.7,861.4 C609.7,861.6 612.1,857.3 614.1,857.1 C616.1,856.9 618.2,861.4 619.9,860.0 C621.6,858.6 622.4,852.2 624.1,848.6 C625.8,845.0 628.2,842.2 629.9,838.6 C631.6,835.0 632.9,827.8 634.1,827.1 C635.3,826.4 635.8,835.2 637.0,834.3 C638.2,833.3 639.6,824.7 641.3,821.4 C643.0,818.1 645.1,816.4 647.0,814.3 C648.9,812.2 651.0,811.5 652.7,808.6 C654.4,805.7 655.6,798.1 657.0,797.1 C658.4,796.1 659.9,803.4 661.3,802.9 C662.7,802.4 664.2,794.8 665.6,794.3 C667.0,793.8 668.5,799.3 669.9,800.0 C671.3,800.7 672.7,797.9 674.1,798.6 C675.5,799.3 677.2,803.1 678.4,804.3 C679.6,805.5 680.3,801.2 681.3,805.7 C682.2,810.2 682.7,824.7 684.1,831.4 C685.5,838.1 688.2,840.5 689.9,845.7 C691.6,851.0 692.7,855.5 694.1,862.9 C695.5,870.3 696.7,885.2 698.4,890.0 C700.1,894.8 702.4,886.9 704.1,891.4 C705.8,895.9 707.0,908.5 708.4,917.1 C709.8,925.7 711.3,935.8 712.7,942.9 C714.1,950.0 715.6,952.4 717.0,960.0 C718.4,967.6 719.6,980.5 721.3,988.6 C723.0,996.7 725.1,1001.0 727.0,1008.6 C728.9,1016.2 730.8,1026.7 732.7,1034.3 C734.6,1041.9 736.5,1048.1 738.4,1054.3 C740.3,1060.5 742.2,1065.7 744.1,1071.4 C746.0,1077.1 747.5,1084.5 749.9,1088.6 C752.3,1092.6 755.3,1094.0 758.4,1095.7 C761.5,1097.4 765.8,1099.3 768.4,1098.6 C771.0,1097.9 772.2,1092.1 774.1,1091.4 C776.0,1090.7 778.0,1095.2 779.9,1094.3 C781.8,1093.3 784.2,1087.4 785.6,1085.7 C787.0,1084.0 787.6,1084.3 788.0,1084.0" fill="none" stroke="#f0393f" stroke-width="5.0" stroke-linejoin="round" stroke-linecap="round"/></g>
<g clip-path="url(#cd)"><path d="M786.1,1105.5 C786.5,1101.7 787.4,1086.0 788.4,1082.5 C789.4,1079.0 790.8,1082.7 791.9,1084.8 C793.0,1086.9 793.8,1092.9 795.3,1095.2 C796.8,1097.5 799.2,1097.6 801.1,1098.6 C803.0,1099.5 805.3,1100.7 806.8,1100.9 C808.3,1101.1 809.1,1099.1 810.3,1099.7 C811.4,1100.3 812.4,1105.2 813.7,1104.3 C815.0,1103.3 816.8,1096.5 818.3,1094.0 C819.8,1091.5 821.4,1091.7 822.9,1089.4 C824.4,1087.1 826.0,1083.6 827.5,1080.2 C829.0,1076.8 830.6,1072.2 832.1,1068.8 C833.6,1065.4 835.6,1063.0 836.7,1059.6 C837.9,1056.1 837.9,1050.0 839.0,1048.1 C840.1,1046.2 842.2,1050.0 843.5,1048.1 C844.8,1046.2 845.5,1039.5 847.0,1036.6 C848.5,1033.7 851.0,1033.4 852.7,1030.9 C854.4,1028.4 855.6,1025.3 857.3,1021.7 C859.0,1018.1 861.2,1013.1 863.1,1009.1 C865.0,1005.1 867.3,1001.8 868.8,997.6 C870.3,993.4 870.9,986.7 872.2,983.8 C873.5,980.9 875.3,983.1 876.8,980.4 C878.3,977.7 880.0,972.1 881.4,967.7 C882.8,963.3 883.5,956.1 884.9,954.0 C886.2,951.9 888.0,957.0 889.5,955.1 C891.0,953.2 892.5,946.1 894.0,942.5 C895.5,938.9 897.1,936.4 898.6,933.3 C900.1,930.2 901.9,926.6 903.2,924.1 C904.6,921.6 905.4,920.5 906.7,918.4 C908.1,916.3 909.6,914.4 911.3,911.5 C913.0,908.6 915.1,902.0 917.0,901.2 C918.9,900.4 921.0,908.4 922.7,906.9 C924.4,905.4 925.6,895.2 927.3,892.0 C929.0,888.8 931.4,889.3 933.1,887.4 C934.8,885.5 936.0,881.3 937.7,880.5 C939.4,879.7 941.9,883.8 943.4,882.8 C944.9,881.8 945.6,876.3 946.9,874.8 C948.2,873.3 949.9,874.0 951.4,873.6 C952.9,873.2 954.5,873.8 956.0,872.5 C957.5,871.2 958.8,866.4 960.6,865.6 C962.4,864.9 964.6,867.9 966.8,868.0 C969.0,868.1 971.4,866.2 973.7,866.2 C976.0,866.2 978.8,869.1 980.5,868.0 C982.2,866.9 982.3,861.4 984.0,859.4 C985.7,857.4 988.8,858.3 990.8,856.0 C992.8,853.7 994.2,849.4 995.9,845.7 C997.6,842.0 999.4,837.1 1001.1,833.7 C1002.8,830.3 1004.5,829.2 1006.2,825.2 C1007.9,821.2 1009.6,815.8 1011.3,809.8 C1013.0,803.8 1014.8,794.6 1016.5,789.2 C1018.2,783.8 1019.9,784.1 1021.6,777.3 C1023.3,770.5 1025.3,754.5 1026.7,748.2 C1028.1,741.9 1028.8,740.5 1030.2,739.6 C1031.6,738.7 1033.9,746.7 1035.3,743.0 C1036.7,739.3 1037.3,723.4 1038.7,717.4 C1040.1,711.4 1042.0,709.7 1043.8,707.1 C1045.6,704.5 1047.7,701.4 1049.7,702.0 C1051.7,702.6 1053.6,706.8 1055.8,710.5 C1058.0,714.2 1060.4,719.1 1062.7,724.2 C1065.0,729.3 1067.5,734.4 1069.5,741.3 C1071.5,748.1 1072.9,757.3 1074.6,765.3 C1076.3,773.3 1077.8,780.7 1079.8,789.2 C1081.8,797.8 1084.6,806.9 1086.6,816.6 C1088.6,826.3 1089.8,835.4 1091.8,847.4 C1093.8,859.4 1096.3,874.8 1098.6,888.5 C1100.9,902.2 1103.4,917.1 1105.4,929.6 C1107.4,942.1 1108.6,952.4 1110.6,963.8 C1112.6,975.2 1115.1,987.2 1117.4,998.0 C1119.7,1008.8 1122.0,1019.7 1124.3,1028.8 C1126.6,1037.9 1129.1,1046.5 1131.1,1052.8 C1133.1,1059.1 1134.7,1061.3 1136.2,1066.4 C1137.7,1071.5 1138.3,1078.4 1140.1,1083.6 C1141.9,1088.8 1144.4,1094.7 1147.0,1097.3 C1149.6,1099.9 1152.9,1099.3 1155.5,1099.0 C1158.1,1098.7 1160.1,1096.4 1162.4,1095.5 C1164.7,1094.6 1166.9,1096.9 1169.2,1093.8 C1171.5,1090.7 1173.8,1080.7 1176.1,1076.7 C1178.4,1072.7 1180.6,1073.9 1182.9,1069.9 C1185.2,1065.9 1187.5,1057.4 1189.8,1052.8 C1192.1,1048.2 1194.3,1046.5 1196.6,1042.5 C1198.9,1038.5 1201.1,1033.9 1203.4,1028.8 C1205.7,1023.7 1207.7,1017.4 1210.3,1011.7 C1212.9,1006.0 1215.9,1001.2 1218.8,994.6 C1221.7,988.0 1224.8,978.0 1227.4,972.3 C1230.0,966.6 1232.2,964.1 1234.2,960.4 C1236.2,956.7 1237.1,954.1 1239.4,950.1 C1241.7,946.1 1245.4,940.4 1248.0,936.4 C1250.6,932.4 1252.5,930.1 1254.8,926.1 C1257.1,922.1 1259.3,916.5 1261.6,912.5 C1263.9,908.5 1266.2,905.1 1268.5,902.2 C1270.8,899.3 1273.0,895.9 1275.3,895.3 C1277.6,894.7 1279.6,900.2 1282.2,898.8 C1284.8,897.4 1287.9,891.9 1290.7,886.8 C1293.5,881.7 1296.5,870.0 1299.3,868.0 C1302.1,866.0 1305.2,876.0 1307.8,874.8 C1310.4,873.6 1312.7,863.0 1315.1,861.0 C1317.5,859.0 1319.7,862.7 1322.0,862.7 C1324.3,862.7 1326.5,861.0 1328.8,861.0 C1331.1,861.0 1333.6,861.6 1335.6,862.7 C1337.6,863.8 1339.1,869.8 1340.8,867.8 C1342.5,865.8 1344.2,855.2 1345.9,850.7 C1347.6,846.2 1349.6,845.0 1351.0,840.5 C1352.4,836.0 1353.1,827.4 1354.5,823.4 C1355.9,819.4 1357.9,820.5 1359.6,816.5 C1361.3,812.5 1362.7,804.2 1364.7,799.4 C1366.7,794.6 1369.6,792.6 1371.6,787.5 C1373.6,782.4 1375.0,773.6 1376.7,768.7 C1378.4,763.9 1379.8,765.2 1381.8,758.4 C1383.8,751.5 1386.4,734.4 1388.7,727.6 C1391.0,720.8 1393.2,718.2 1395.5,717.4 C1397.8,716.5 1400.0,723.4 1402.3,722.5 C1404.6,721.6 1406.9,711.9 1409.2,712.2 C1411.5,712.5 1413.7,719.4 1416.0,724.2 C1418.3,729.1 1420.6,733.9 1422.9,741.3 C1425.2,748.7 1427.7,759.0 1429.7,768.7 C1431.7,778.4 1432.8,788.6 1434.8,799.4 C1436.8,810.2 1439.4,821.6 1441.7,833.6 C1444.0,845.6 1446.2,858.8 1448.5,871.3 C1450.8,883.8 1453.1,895.8 1455.4,908.9 C1457.7,922.0 1460.2,935.1 1462.2,949.9 C1464.2,964.7 1465.3,985.8 1467.3,997.8 C1469.3,1009.8 1471.9,1011.4 1474.2,1021.7 C1476.5,1032.0 1478.7,1049.1 1481.0,1059.4 C1483.3,1069.7 1486.0,1078.2 1487.8,1083.3 C1489.6,1088.4 1491.3,1088.9 1492.0,1090.0" fill="none" stroke="#535353" stroke-width="5.0" stroke-linejoin="round" stroke-linecap="round"/>
<path d="M786.0,1104.0 C786.2,1103.9 786.7,1104.3 787.3,1103.2 C787.9,1102.1 788.3,1098.4 789.6,1097.4 C790.9,1096.4 793.4,1099.5 795.3,1097.4 C797.2,1095.3 799.2,1088.0 801.1,1084.8 C803.0,1081.5 804.9,1079.8 806.8,1077.9 C808.7,1076.0 811.0,1076.3 812.5,1073.3 C814.0,1070.2 814.9,1064.0 816.0,1059.6 C817.1,1055.2 818.2,1048.8 819.4,1046.9 C820.5,1045.0 821.5,1050.0 822.9,1048.1 C824.2,1046.2 825.8,1039.0 827.5,1035.5 C829.2,1032.0 831.5,1030.7 833.2,1027.4 C834.9,1024.2 836.1,1020.6 837.8,1016.0 C839.5,1011.4 841.6,1003.7 843.5,999.9 C845.4,996.1 847.8,994.5 849.3,993.0 C850.8,991.5 851.4,994.2 852.7,990.7 C854.0,987.2 855.8,978.2 857.3,972.3 C858.8,966.4 860.2,958.7 861.9,955.1 C863.6,951.5 865.9,951.5 867.6,950.5 C869.3,949.5 870.9,951.5 872.2,949.4 C873.6,947.3 874.4,941.5 875.7,937.9 C877.1,934.3 878.8,929.9 880.3,927.6 C881.8,925.3 883.6,926.2 884.9,924.1 C886.2,922.0 887.0,917.4 888.3,914.9 C889.6,912.4 891.4,911.9 892.9,909.2 C894.4,906.5 896.0,900.8 897.5,898.9 C899.0,897.0 900.6,898.5 902.1,897.7 C903.6,896.9 905.4,897.0 906.7,894.3 C908.0,891.6 908.8,883.6 910.1,881.7 C911.4,879.8 913.0,884.3 914.7,882.8 C916.4,881.3 918.7,874.6 920.4,872.5 C922.1,870.4 923.5,871.4 925.0,870.2 C926.5,869.1 928.1,866.0 929.6,865.6 C931.1,865.2 932.7,869.2 934.2,867.9 C935.7,866.5 937.3,858.9 938.8,857.5 C940.3,856.1 941.9,860.2 943.4,859.8 C944.9,859.4 946.1,856.4 948.0,855.3 C949.9,854.2 952.9,853.8 954.9,853.0 C956.9,852.2 958.3,850.9 960.0,850.8 C961.7,850.7 963.1,851.5 965.1,852.6 C967.1,853.8 969.7,857.1 972.0,857.7 C974.3,858.3 976.8,856.6 978.8,856.0 C980.8,855.4 982.6,852.6 984.0,854.3 C985.4,856.0 986.0,866.5 987.4,866.2 C988.8,865.9 991.1,856.9 992.5,852.6 C993.9,848.3 994.5,842.9 995.9,840.6 C997.3,838.3 999.4,840.3 1001.1,838.9 C1002.8,837.5 1004.5,834.0 1006.2,832.0 C1007.9,830.0 1009.9,831.2 1011.3,826.9 C1012.7,822.6 1013.4,811.2 1014.8,806.4 C1016.2,801.5 1018.2,801.2 1019.9,797.8 C1021.6,794.4 1023.0,790.6 1025.0,785.8 C1027.0,780.9 1029.6,774.4 1031.9,768.7 C1034.2,763.0 1036.5,756.5 1038.7,751.6 C1040.9,746.8 1043.2,738.2 1044.9,739.6 C1046.6,741.0 1047.5,756.5 1049.0,760.2 C1050.5,763.9 1052.1,758.2 1054.1,761.9 C1056.1,765.6 1059.3,776.1 1061.0,782.4 C1062.7,788.7 1063.0,791.0 1064.4,799.5 C1065.8,808.0 1067.8,822.3 1069.5,833.7 C1071.2,845.1 1072.9,857.7 1074.6,868.0 C1076.3,878.3 1078.1,885.0 1079.8,895.3 C1081.5,905.6 1083.2,916.5 1084.9,929.6 C1086.6,942.7 1088.0,961.5 1090.0,974.0 C1092.0,986.5 1094.9,992.9 1096.9,1004.9 C1098.9,1016.9 1100.0,1036.8 1102.0,1045.9 C1104.0,1055.0 1106.9,1053.9 1108.9,1059.6 C1110.9,1065.3 1112.0,1074.4 1114.0,1080.1 C1116.0,1085.8 1118.5,1090.6 1120.8,1093.8 C1123.1,1097.0 1125.4,1099.0 1127.7,1099.0 C1130.0,1099.0 1132.2,1095.2 1134.5,1093.8 C1136.8,1092.4 1139.4,1091.0 1141.8,1090.4 C1144.2,1089.8 1146.4,1093.0 1148.7,1090.4 C1151.0,1087.8 1153.5,1078.4 1155.5,1075.0 C1157.5,1071.6 1158.4,1073.9 1160.7,1069.9 C1163.0,1065.9 1166.6,1055.8 1169.2,1051.0 C1171.8,1046.2 1173.8,1045.3 1176.1,1040.8 C1178.4,1036.2 1180.6,1029.1 1182.9,1023.7 C1185.2,1018.3 1187.8,1013.1 1189.8,1008.3 C1191.8,1003.4 1192.9,998.9 1194.9,994.6 C1196.9,990.3 1199.4,986.0 1201.7,982.6 C1204.0,979.2 1206.3,978.6 1208.6,974.0 C1210.9,969.4 1213.1,960.6 1215.4,955.2 C1217.7,949.8 1220.0,946.4 1222.3,941.5 C1224.6,936.6 1226.5,930.9 1229.1,926.1 C1231.7,921.3 1235.1,917.0 1237.7,912.5 C1240.3,908.0 1242.5,902.2 1244.5,898.8 C1246.5,895.4 1247.6,893.9 1249.6,891.9 C1251.6,889.9 1254.2,888.8 1256.5,886.8 C1258.8,884.8 1260.7,882.5 1263.3,879.9 C1265.9,877.3 1269.1,874.2 1271.9,871.4 C1274.8,868.5 1277.3,865.1 1280.4,862.8 C1283.5,860.5 1287.8,857.1 1290.7,857.7 C1293.6,858.3 1295.0,865.9 1297.6,866.2 C1300.2,866.5 1304.0,860.5 1306.1,859.4 C1308.2,858.2 1308.5,859.9 1310.0,859.3 C1311.5,858.7 1313.1,856.5 1315.1,855.9 C1317.1,855.3 1319.7,855.0 1322.0,855.9 C1324.3,856.8 1326.8,859.3 1328.8,861.0 C1330.8,862.7 1332.2,866.7 1333.9,866.1 C1335.6,865.5 1337.4,859.6 1339.1,857.6 C1340.8,855.6 1342.2,855.6 1344.2,854.2 C1346.2,852.8 1348.7,851.9 1351.0,849.0 C1353.3,846.1 1355.9,841.4 1357.9,837.1 C1359.9,832.8 1361.3,828.0 1363.0,823.4 C1364.7,818.8 1366.4,814.8 1368.1,809.7 C1369.8,804.6 1371.3,797.2 1373.3,792.6 C1375.3,788.0 1377.8,786.3 1380.1,782.3 C1382.4,778.3 1384.7,775.8 1387.0,768.7 C1389.3,761.6 1391.8,743.0 1393.8,739.6 C1395.8,736.2 1397.2,746.1 1398.9,748.1 C1400.6,750.1 1402.3,747.0 1404.0,751.6 C1405.7,756.2 1407.8,771.0 1409.2,775.5 C1410.6,780.0 1411.2,772.1 1412.6,778.9 C1414.0,785.7 1415.7,804.5 1417.7,816.5 C1419.7,828.5 1422.6,839.9 1424.6,850.7 C1426.6,861.5 1428.0,870.1 1429.7,881.5 C1431.4,892.9 1433.1,906.6 1434.8,919.1 C1436.5,931.6 1438.3,945.4 1440.0,956.8 C1441.7,968.2 1443.1,976.1 1445.1,987.5 C1447.1,998.9 1449.6,1012.1 1451.9,1025.2 C1454.2,1038.3 1456.2,1056.0 1458.8,1066.2 C1461.4,1076.5 1464.7,1081.6 1467.3,1086.7 C1469.9,1091.8 1471.9,1093.0 1474.2,1097.0 C1476.5,1101.0 1478.7,1109.6 1481.0,1110.7 C1483.3,1111.8 1486.0,1105.4 1487.8,1103.8 C1489.6,1102.2 1491.3,1101.5 1492.0,1101.0" fill="none" stroke="#f0393f" stroke-width="5.0" stroke-linejoin="round" stroke-linecap="round"/></g>
<rect x="90" y="0" width="695" height="1.2" fill="#d2d2d2"/>
<g stroke="#000" fill="none" stroke-linecap="butt">
<line x1="84.2" y1="0" x2="84.2" y2="1148" stroke-width="4"/>
<line x1="82" y1="2.8" x2="787" y2="2.8" stroke-width="3.5"/>
<line x1="787" y1="1.85" x2="1492" y2="1.85" stroke-width="3.7"/>
<line x1="1490" y1="0" x2="1490" y2="1148" stroke-width="3.8"/>
<line x1="787.1" y1="0" x2="787.1" y2="1148" stroke-width="3.6"/>
<line x1="82" y1="574" x2="1492" y2="574" stroke-width="3.8"/>
<line x1="82" y1="1146" x2="1492" y2="1146" stroke-width="4"/>
<line x1="86" y1="97.1" x2="96" y2="97.1" stroke-width="4"/>
<line x1="86" y1="287.8" x2="96" y2="287.8" stroke-width="4"/>
<line x1="86" y1="478.5" x2="96" y2="478.5" stroke-width="4"/>
<line x1="86" y1="192.4" x2="90.6" y2="192.4" stroke-width="3.6"/>
<line x1="86" y1="383.2" x2="90.6" y2="383.2" stroke-width="3.6"/>
<line x1="86" y1="669.1" x2="96" y2="669.1" stroke-width="4"/>
<line x1="86" y1="860.0" x2="96" y2="860.0" stroke-width="4"/>
<line x1="86" y1="1050.9" x2="96" y2="1050.9" stroke-width="4"/>
<line x1="86" y1="764.6" x2="90.6" y2="764.6" stroke-width="3.6"/>
<line x1="86" y1="955.4" x2="90.6" y2="955.4" stroke-width="3.6"/>
<line x1="115.9" y1="1134" x2="115.9" y2="1145" stroke-width="3.8"/>
<line x1="147.9" y1="1140.3" x2="147.9" y2="1145" stroke-width="3.6"/>
<line x1="179.8" y1="1140.3" x2="179.8" y2="1145" stroke-width="3.6"/>
<line x1="211.8" y1="1140.3" x2="211.8" y2="1145" stroke-width="3.6"/>
<line x1="243.7" y1="1140.3" x2="243.7" y2="1145" stroke-width="3.6"/>
<line x1="275.7" y1="1134" x2="275.7" y2="1145" stroke-width="3.8"/>
<line x1="307.7" y1="1140.3" x2="307.7" y2="1145" stroke-width="3.6"/>
<line x1="339.6" y1="1140.3" x2="339.6" y2="1145" stroke-width="3.6"/>
<line x1="371.6" y1="1140.3" x2="371.6" y2="1145" stroke-width="3.6"/>
<line x1="403.5" y1="1140.3" x2="403.5" y2="1145" stroke-width="3.6"/>
<line x1="435.5" y1="1134" x2="435.5" y2="1145" stroke-width="3.8"/>
<line x1="467.5" y1="1140.3" x2="467.5" y2="1145" stroke-width="3.6"/>
<line x1="499.4" y1="1140.3" x2="499.4" y2="1145" stroke-width="3.6"/>
<line x1="531.4" y1="1140.3" x2="531.4" y2="1145" stroke-width="3.6"/>
<line x1="563.3" y1="1140.3" x2="563.3" y2="1145" stroke-width="3.6"/>
<line x1="595.3" y1="1134" x2="595.3" y2="1145" stroke-width="3.8"/>
<line x1="627.3" y1="1140.3" x2="627.3" y2="1145" stroke-width="3.6"/>
<line x1="659.2" y1="1140.3" x2="659.2" y2="1145" stroke-width="3.6"/>
<line x1="691.2" y1="1140.3" x2="691.2" y2="1145" stroke-width="3.6"/>
<line x1="723.1" y1="1140.3" x2="723.1" y2="1145" stroke-width="3.6"/>
<line x1="755.1" y1="1134" x2="755.1" y2="1145" stroke-width="3.8"/>
<line x1="852.7" y1="1140.3" x2="852.7" y2="1145" stroke-width="3.6"/>
<line x1="885.4" y1="1140.3" x2="885.4" y2="1145" stroke-width="3.6"/>
<line x1="918.1" y1="1140.3" x2="918.1" y2="1145" stroke-width="3.6"/>
<line x1="950.8" y1="1140.3" x2="950.8" y2="1145" stroke-width="3.6"/>
<line x1="983.5" y1="1134" x2="983.5" y2="1145" stroke-width="3.8"/>
<line x1="1016.2" y1="1140.3" x2="1016.2" y2="1145" stroke-width="3.6"/>
<line x1="1048.9" y1="1140.3" x2="1048.9" y2="1145" stroke-width="3.6"/>
<line x1="1081.5" y1="1140.3" x2="1081.5" y2="1145" stroke-width="3.6"/>
<line x1="1114.2" y1="1140.3" x2="1114.2" y2="1145" stroke-width="3.6"/>
<line x1="1147.0" y1="1134" x2="1147.0" y2="1145" stroke-width="3.8"/>
<line x1="1179.7" y1="1140.3" x2="1179.7" y2="1145" stroke-width="3.6"/>
<line x1="1212.4" y1="1140.3" x2="1212.4" y2="1145" stroke-width="3.6"/>
<line x1="1245.0" y1="1140.3" x2="1245.0" y2="1145" stroke-width="3.6"/>
<line x1="1277.8" y1="1140.3" x2="1277.8" y2="1145" stroke-width="3.6"/>
<line x1="1310.5" y1="1134" x2="1310.5" y2="1145" stroke-width="3.8"/>
<line x1="1343.2" y1="1140.3" x2="1343.2" y2="1145" stroke-width="3.6"/>
<line x1="1375.9" y1="1140.3" x2="1375.9" y2="1145" stroke-width="3.6"/>
<line x1="1408.6" y1="1140.3" x2="1408.6" y2="1145" stroke-width="3.6"/>
<line x1="1441.2" y1="1140.3" x2="1441.2" y2="1145" stroke-width="3.6"/>
<line x1="1474.0" y1="1134" x2="1474.0" y2="1145" stroke-width="3.8"/>
</g>
<g font-family="'Liberation Serif', serif" font-size="37" fill="#000">
<text x="71.3" y="107.9" text-anchor="end">32</text>
<text x="71.3" y="298.6" text-anchor="end">24</text>
<text x="71.3" y="489.3" text-anchor="end">16</text>
<text x="71.3" y="679.9" text-anchor="end">32</text>
<text x="71.3" y="870.8" text-anchor="end">24</text>
<text x="71.3" y="1061.7" text-anchor="end">16</text>
<text x="115.9" y="1187" text-anchor="middle">-200</text>
<text x="275.7" y="1187" text-anchor="middle">-100</text>
<text x="435.5" y="1187" text-anchor="middle">0</text>
<text x="595.3" y="1187" text-anchor="middle">100</text>
<text x="755.1" y="1187" text-anchor="middle">200</text>
<text x="983.5" y="1187" text-anchor="middle">-100</text>
<text x="1147.0" y="1187" text-anchor="middle">0</text>
<text x="1310.5" y="1187" text-anchor="middle">100</text>
<text x="1474.0" y="1187" text-anchor="middle">200</text>
</g>
<text transform="translate(28.3,588.5) rotate(-90)" text-anchor="middle" font-family="'Liberation Serif', serif" font-weight="bold" font-size="41">Intensity (a.u.)</text>
<text x="791" y="1234" text-anchor="middle" font-family="'Liberation Serif', serif" font-weight="bold" font-size="41"><tspan font-style="italic">x</tspan> (nm)</text>
<text x="741.2" y="65.3" text-anchor="middle" font-family="'Liberation Serif', serif" font-weight="bold" font-size="59" letter-spacing="1">(a)</text>
<text x="1441.8" y="64.5" text-anchor="middle" font-family="'Liberation Serif', serif" font-weight="bold" font-size="59" letter-spacing="1">(b)</text>
<text x="742.7" y="637.0" text-anchor="middle" font-family="'Liberation Serif', serif" font-weight="bold" font-size="59" letter-spacing="1">(c)</text>
<text x="1441.8" y="637.0" text-anchor="middle" font-family="'Liberation Serif', serif" font-weight="bold" font-size="59" letter-spacing="1">(d)</text>
<line x1="519.0" y1="178.0" x2="591.0" y2="178.0" stroke="#ff0000" stroke-width="4.8" stroke-linecap="round"/>
<g font-family="'Liberation Serif', serif" font-size="33" stroke="#000" stroke-width="0.35">
<text transform="translate(601.1,190.2) scale(1.2,1)" font-style="italic">θ</text>
<text transform="translate(622.8,191.1) scale(1.11,0.84)" stroke-width="0.7">=</text>
<text x="649.5" y="190.2">0</text>
<text x="665.7" y="176.5" font-size="22">0</text>
<text x="677.0" y="190.2">,</text>
<text transform="translate(692.0,190.2) skewX(-9) scale(1.1,1)" font-style="italic">β</text>
<text transform="translate(717.6,191.1) scale(1.11,0.84)" stroke-width="0.7">=</text>
<text x="744.3" y="190.2">0</text>
<text x="760.7" y="176.5" font-size="22">0</text>
</g>
<line x1="1063.0" y1="139.4" x2="1135.5" y2="139.4" stroke="#545454" stroke-width="4.8" stroke-linecap="round"/>
<g font-family="'Liberation Serif', serif" font-size="33" stroke="#000" stroke-width="0.35">
<text transform="translate(1144.9,150.5) scale(1.2,1)" font-style="italic">θ</text>
<text transform="translate(1166.6,151.4) scale(1.11,0.84)" stroke-width="0.7">=</text>
<text x="1193.3" y="150.5">0</text>
<text x="1209.5" y="136.8" font-size="22">0</text>
<text x="1220.8" y="150.5">,</text>
<text transform="translate(1235.8,150.5) skewX(-9) scale(1.1,1)" font-style="italic">β</text>
<text transform="translate(1261.4,151.4) scale(1.11,0.84)" stroke-width="0.7">=</text>
<text x="1288.1" y="150.5">2</text>
<text x="1304.5" y="136.8" font-size="22">0</text>
</g>
<line x1="1063.0" y1="192.0" x2="1135.5" y2="192.0" stroke="#ff0000" stroke-width="4.8" stroke-linecap="round"/>
<g font-family="'Liberation Serif', serif" font-size="33" stroke="#000" stroke-width="0.35">
<text transform="translate(1144.9,203.5) scale(1.2,1)" font-style="italic">θ</text>
<text transform="translate(1166.6,204.4) scale(1.11,0.84)" stroke-width="0.7">=</text>
<text x="1193.3" y="203.5">2</text>
<text x="1209.5" y="189.8" font-size="22">0</text>
<text x="1220.8" y="203.5">,</text>
<text transform="translate(1235.8,203.5) skewX(-9) scale(1.1,1)" font-style="italic">β</text>
<text transform="translate(1261.4,204.4) scale(1.11,0.84)" stroke-width="0.7">=</text>
<text x="1288.1" y="203.5">0</text>
<text x="1304.5" y="189.8" font-size="22">0</text>
</g>
<line x1="391.5" y1="698.4" x2="463.5" y2="698.4" stroke="#545454" stroke-width="4.8" stroke-linecap="round"/>
<g font-family="'Liberation Serif', serif" font-size="33" stroke="#000" stroke-width="0.35">
<text transform="translate(473.9,709.5) scale(1.2,1)" font-style="italic">θ</text>
<text transform="translate(495.6,710.4) scale(1.11,0.84)" stroke-width="0.7">=</text>
<text x="522.3" y="709.5">0</text>
<text x="538.5" y="695.8" font-size="22">0</text>
<text x="549.8" y="709.5">,</text>
<text transform="translate(564.8,709.5) skewX(-9) scale(1.1,1)" font-style="italic">β</text>
<text transform="translate(590.4,710.4) scale(1.11,0.84)" stroke-width="0.7">=</text>
<text x="617.1" y="709.5">5</text>
<text x="633.5" y="695.8" font-size="22">0</text>
</g>
<line x1="391.5" y1="751.0" x2="463.5" y2="751.0" stroke="#ff0000" stroke-width="4.8" stroke-linecap="round"/>
<g font-family="'Liberation Serif', serif" font-size="33" stroke="#000" stroke-width="0.35">
<text transform="translate(473.9,762.5) scale(1.2,1)" font-style="italic">θ</text>
<text transform="translate(495.6,763.4) scale(1.11,0.84)" stroke-width="0.7">=</text>
<text x="522.3" y="762.5">5</text>
<text x="538.5" y="748.8" font-size="22">0</text>
<text x="549.8" y="762.5">,</text>
<text transform="translate(564.8,762.5) skewX(-9) scale(1.1,1)" font-style="italic">β</text>
<text transform="translate(590.4,763.4) scale(1.11,0.84)" stroke-width="0.7">=</text>
<text x="617.1" y="762.5">0</text>
<text x="633.5" y="748.8" font-size="22">0</text>
</g>
<line x1="1094.5" y1="683.5" x2="1165.5" y2="683.5" stroke="#545454" stroke-width="4.8" stroke-linecap="round"/>
<g font-family="'Liberation Serif', serif" font-size="33" stroke="#000" stroke-width="0.35">
<text transform="translate(1176.6,694.2) scale(1.2,1)" font-style="italic">θ</text>
<text transform="translate(1198.3,695.1) scale(1.11,0.84)" stroke-width="0.7">=</text>
<text x="1225.0" y="694.2">0</text>
<text x="1241.2" y="680.5" font-size="22">0</text>
<text x="1252.5" y="694.2">,</text>
<text transform="translate(1267.5,694.2) skewX(-9) scale(1.1,1)" font-style="italic">β</text>
<text transform="translate(1293.1,695.1) scale(1.11,0.84)" stroke-width="0.7">=</text>
<text x="1319.8" y="694.2">10</text>
<text x="1352.7" y="680.5" font-size="22">0</text>
</g>
<line x1="1094.5" y1="736.4" x2="1165.5" y2="736.4" stroke="#ff0000" stroke-width="4.8" stroke-linecap="round"/>
<g font-family="'Liberation Serif', serif" font-size="33" stroke="#000" stroke-width="0.35">
<text transform="translate(1176.6,747.5) scale(1.2,1)" font-style="italic">θ</text>
<text transform="translate(1198.3,748.4) scale(1.11,0.84)" stroke-width="0.7">=</text>
<text x="1225.0" y="747.5">10</text>
<text x="1257.7" y="733.8" font-size="22">0</text>
<text x="1269.0" y="747.5">,</text>
<text transform="translate(1284.0,747.5) skewX(-9) scale(1.1,1)" font-style="italic">β</text>
<text transform="translate(1309.6,748.4) scale(1.11,0.84)" stroke-width="0.7">=</text>
<text x="1336.3" y="747.5">0</text>
<text x="1352.7" y="733.8" font-size="22">0</text>
</g>
<g transform="translate(217.0,477.7) rotate(-90)" font-family="'Liberation Serif', serif" font-size="33" stroke="#000" stroke-width="0.25">
<text x="-1.2" y="0" font-style="italic">h</text>
<text transform="translate(19.3,-2.2) scale(1.12,0.8)" stroke-width="0.5">=</text>
<text x="45.7" y="0">60</text>
<text x="84.9" y="0">nm</text>
</g>
<g transform="translate(264.2,492.2) rotate(-90)" font-family="'Liberation Serif', serif" font-size="33" stroke="#000" stroke-width="0.25">
<text x="-1.2" y="0" font-style="italic">b</text>
<text transform="translate(24.3,-2.2) scale(1.12,0.8)" stroke-width="0.5">=</text>
<text x="52.1" y="0">41.5</text>
<text x="113.5" y="0">nm</text>
</g>
<g transform="translate(304.5,471.9) rotate(-90)" font-family="'Liberation Serif', serif" font-size="33" stroke="#000" stroke-width="0.25">
<text x="-0.4" y="0" font-style="italic">s</text>
<text transform="translate(21.1,-2.2) scale(1.12,0.8)" stroke-width="0.5">=</text>
<text x="49.5" y="0">0</text>
<text x="73.0" y="0">nm</text>
</g>
</svg>
</body></html>
